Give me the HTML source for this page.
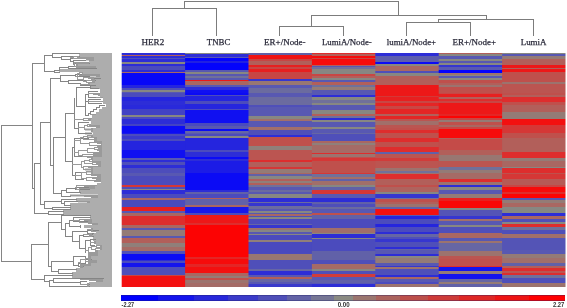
<!DOCTYPE html>
<html><head><meta charset="utf-8"><style>
html,body{margin:0;padding:0;background:#fff;}
body{width:567px;height:308px;overflow:hidden;}
svg{display:block;}
.lab{font-family:"Liberation Serif",serif;font-size:9.2px;fill:#2a2a3a;stroke:#2a2a3a;stroke-width:0.25px;}
.cbl{font-family:"Liberation Sans",sans-serif;font-size:6.4px;fill:#333;font-weight:bold;}
</style></head><body>
<svg width="567" height="308" viewBox="0 0 567 308">
<rect x="0" y="0" width="567" height="308" fill="#fff"/>
<g>
<rect x="121.7" y="53" width="64.4" height="2" fill="#2d2dd7"/>
<rect x="121.7" y="55" width="64.4" height="1" fill="#b25f5a"/>
<rect x="121.7" y="56" width="64.4" height="2" fill="#2d2dd7"/>
<rect x="121.7" y="58" width="64.4" height="1" fill="#4f4fb9"/>
<rect x="121.7" y="59" width="64.4" height="3" fill="#2d2dd7"/>
<rect x="121.7" y="62" width="64.4" height="2" fill="#878782"/>
<rect x="121.7" y="64" width="64.4" height="2" fill="#2d2dd7"/>
<rect x="121.7" y="66" width="64.4" height="4" fill="#4b4bbd"/>
<rect x="121.7" y="70" width="64.4" height="2" fill="#2d2dd7"/>
<rect x="121.7" y="72" width="64.4" height="1" fill="#a96762"/>
<rect x="121.7" y="73" width="64.4" height="12" fill="#0707f8"/>
<rect x="121.7" y="85" width="64.4" height="3" fill="#2525de"/>
<rect x="121.7" y="88" width="64.4" height="2" fill="#4f4fb9"/>
<rect x="121.7" y="90" width="64.4" height="2" fill="#878782"/>
<rect x="121.7" y="92" width="64.4" height="1" fill="#5858b2"/>
<rect x="121.7" y="93" width="64.4" height="4" fill="#4b4bbd"/>
<rect x="121.7" y="97" width="64.4" height="4" fill="#2525de"/>
<rect x="121.7" y="101" width="64.4" height="4" fill="#2d2dd7"/>
<rect x="121.7" y="105" width="64.4" height="4" fill="#2929db"/>
<rect x="121.7" y="109" width="64.4" height="6" fill="#4242c4"/>
<rect x="121.7" y="115" width="64.4" height="2" fill="#878782"/>
<rect x="121.7" y="117" width="64.4" height="2" fill="#4b4bbd"/>
<rect x="121.7" y="119" width="64.4" height="5" fill="#2d2dd7"/>
<rect x="121.7" y="124" width="64.4" height="2" fill="#4242c4"/>
<rect x="121.7" y="126" width="64.4" height="7" fill="#0b0bf5"/>
<rect x="121.7" y="133" width="64.4" height="1" fill="#1818ea"/>
<rect x="121.7" y="134" width="64.4" height="2" fill="#4b4bbd"/>
<rect x="121.7" y="136" width="64.4" height="3" fill="#3a3acc"/>
<rect x="121.7" y="139" width="64.4" height="2" fill="#4b4bbd"/>
<rect x="121.7" y="141" width="64.4" height="9" fill="#2525de"/>
<rect x="121.7" y="150" width="64.4" height="8" fill="#1010f1"/>
<rect x="121.7" y="158" width="64.4" height="2" fill="#5858b2"/>
<rect x="121.7" y="160" width="64.4" height="2" fill="#2d2dd7"/>
<rect x="121.7" y="162" width="64.4" height="3" fill="#4f4fb9"/>
<rect x="121.7" y="165" width="64.4" height="3" fill="#2d2dd7"/>
<rect x="121.7" y="168" width="64.4" height="5" fill="#4d4dbb"/>
<rect x="121.7" y="173" width="64.4" height="3" fill="#5858b2"/>
<rect x="121.7" y="176" width="64.4" height="9" fill="#4b4bbd"/>
<rect x="121.7" y="185" width="64.4" height="2" fill="#d53736"/>
<rect x="121.7" y="187" width="64.4" height="2" fill="#4f4fb9"/>
<rect x="121.7" y="189" width="64.4" height="1" fill="#878782"/>
<rect x="121.7" y="190" width="64.4" height="4" fill="#2d2dd7"/>
<rect x="121.7" y="194" width="64.4" height="4" fill="#4b4bbd"/>
<rect x="121.7" y="198" width="64.4" height="2" fill="#a96762"/>
<rect x="121.7" y="200" width="64.4" height="7" fill="#4b4bbd"/>
<rect x="121.7" y="207" width="64.4" height="4" fill="#e72020"/>
<rect x="121.7" y="211" width="64.4" height="2" fill="#5858b2"/>
<rect x="121.7" y="213" width="64.4" height="3" fill="#a96762"/>
<rect x="121.7" y="216" width="64.4" height="9" fill="#de2d2d"/>
<rect x="121.7" y="225" width="64.4" height="3" fill="#a96762"/>
<rect x="121.7" y="228" width="64.4" height="2" fill="#5858b2"/>
<rect x="121.7" y="230" width="64.4" height="6" fill="#947b76"/>
<rect x="121.7" y="236" width="64.4" height="2" fill="#5858b2"/>
<rect x="121.7" y="238" width="64.4" height="5" fill="#b25f5a"/>
<rect x="121.7" y="243" width="64.4" height="4" fill="#907f7a"/>
<rect x="121.7" y="247" width="64.4" height="4" fill="#a56b66"/>
<rect x="121.7" y="251" width="64.4" height="3" fill="#4f4fb9"/>
<rect x="121.7" y="254" width="64.4" height="6" fill="#0b0bf5"/>
<rect x="121.7" y="260" width="64.4" height="1" fill="#2d2dd7"/>
<rect x="121.7" y="261" width="64.4" height="2" fill="#4b4bbd"/>
<rect x="121.7" y="263" width="64.4" height="4" fill="#1414ed"/>
<rect x="121.7" y="267" width="64.4" height="8" fill="#4f4fb9"/>
<rect x="121.7" y="275" width="64.4" height="1" fill="#c84644"/>
<rect x="121.7" y="276" width="64.4" height="11" fill="#f31010"/>
<rect x="185.1" y="53" width="64.4" height="1" fill="#878782"/>
<rect x="185.1" y="54" width="64.4" height="3" fill="#2d2dd7"/>
<rect x="185.1" y="57" width="64.4" height="1" fill="#5858b2"/>
<rect x="185.1" y="58" width="64.4" height="3" fill="#0303fc"/>
<rect x="185.1" y="61" width="64.4" height="2" fill="#2020e2"/>
<rect x="185.1" y="63" width="64.4" height="7" fill="#0303fc"/>
<rect x="185.1" y="70" width="64.4" height="2" fill="#5858b2"/>
<rect x="185.1" y="72" width="64.4" height="2" fill="#878782"/>
<rect x="185.1" y="74" width="64.4" height="2" fill="#5858b2"/>
<rect x="185.1" y="76" width="64.4" height="2" fill="#70709a"/>
<rect x="185.1" y="78" width="64.4" height="2" fill="#5858b2"/>
<rect x="185.1" y="80" width="64.4" height="1" fill="#ed1818"/>
<rect x="185.1" y="81" width="64.4" height="4" fill="#a96762"/>
<rect x="185.1" y="85" width="64.4" height="2" fill="#5858b2"/>
<rect x="185.1" y="87" width="64.4" height="3" fill="#2d2dd7"/>
<rect x="185.1" y="90" width="64.4" height="3" fill="#1010f1"/>
<rect x="185.1" y="93" width="64.4" height="2" fill="#0b0bf5"/>
<rect x="185.1" y="95" width="64.4" height="1" fill="#4b4bbd"/>
<rect x="185.1" y="96" width="64.4" height="5" fill="#2525de"/>
<rect x="185.1" y="101" width="64.4" height="3" fill="#4b4bbd"/>
<rect x="185.1" y="104" width="64.4" height="5" fill="#2525de"/>
<rect x="185.1" y="109" width="64.4" height="1" fill="#4b4bbd"/>
<rect x="185.1" y="110" width="64.4" height="13" fill="#1010f1"/>
<rect x="185.1" y="123" width="64.4" height="3" fill="#4b4bbd"/>
<rect x="185.1" y="126" width="64.4" height="3" fill="#5858b2"/>
<rect x="185.1" y="129" width="64.4" height="2" fill="#0b0bf5"/>
<rect x="185.1" y="131" width="64.4" height="2" fill="#6666a4"/>
<rect x="185.1" y="133" width="64.4" height="1" fill="#5858b2"/>
<rect x="185.1" y="134" width="64.4" height="2" fill="#4b4bbd"/>
<rect x="185.1" y="136" width="64.4" height="2" fill="#878782"/>
<rect x="185.1" y="138" width="64.4" height="12" fill="#2525de"/>
<rect x="185.1" y="150" width="64.4" height="2" fill="#4b4bbd"/>
<rect x="185.1" y="152" width="64.4" height="5" fill="#2d2dd7"/>
<rect x="185.1" y="157" width="64.4" height="2" fill="#0b0bf5"/>
<rect x="185.1" y="159" width="64.4" height="2" fill="#2d2dd7"/>
<rect x="185.1" y="161" width="64.4" height="12" fill="#1c1ce6"/>
<rect x="185.1" y="173" width="64.4" height="17" fill="#0b0bf5"/>
<rect x="185.1" y="190" width="64.4" height="2" fill="#2d2dd7"/>
<rect x="185.1" y="192" width="64.4" height="2" fill="#6161a8"/>
<rect x="185.1" y="194" width="64.4" height="4" fill="#4b4bbd"/>
<rect x="185.1" y="198" width="64.4" height="1" fill="#b25f5a"/>
<rect x="185.1" y="199" width="64.4" height="6" fill="#6161a8"/>
<rect x="185.1" y="205" width="64.4" height="2" fill="#a96762"/>
<rect x="185.1" y="207" width="64.4" height="6" fill="#1818ea"/>
<rect x="185.1" y="213" width="64.4" height="2" fill="#4b4bbd"/>
<rect x="185.1" y="215" width="64.4" height="8" fill="#ed1818"/>
<rect x="185.1" y="223" width="64.4" height="2" fill="#de2d2d"/>
<rect x="185.1" y="225" width="64.4" height="32" fill="#fc0303"/>
<rect x="185.1" y="257" width="64.4" height="2" fill="#e42525"/>
<rect x="185.1" y="259" width="64.4" height="5" fill="#f60b0b"/>
<rect x="185.1" y="264" width="64.4" height="3" fill="#e42525"/>
<rect x="185.1" y="267" width="64.4" height="6" fill="#f31010"/>
<rect x="185.1" y="273" width="64.4" height="3" fill="#a96762"/>
<rect x="185.1" y="276" width="64.4" height="2" fill="#947b76"/>
<rect x="185.1" y="278" width="64.4" height="2" fill="#bf504c"/>
<rect x="185.1" y="280" width="64.4" height="3" fill="#9c736e"/>
<rect x="185.1" y="283" width="64.4" height="4" fill="#a56b66"/>
<rect x="248.5" y="53" width="64.4" height="2" fill="#6161a8"/>
<rect x="248.5" y="55" width="64.4" height="4" fill="#f01414"/>
<rect x="248.5" y="59" width="64.4" height="2" fill="#c84644"/>
<rect x="248.5" y="61" width="64.4" height="4" fill="#b25f5a"/>
<rect x="248.5" y="65" width="64.4" height="2" fill="#e72020"/>
<rect x="248.5" y="67" width="64.4" height="2" fill="#c84644"/>
<rect x="248.5" y="69" width="64.4" height="3" fill="#e72020"/>
<rect x="248.5" y="72" width="64.4" height="7" fill="#c84644"/>
<rect x="248.5" y="79" width="64.4" height="2" fill="#3636d0"/>
<rect x="248.5" y="81" width="64.4" height="4" fill="#987772"/>
<rect x="248.5" y="85" width="64.4" height="3" fill="#5858b2"/>
<rect x="248.5" y="88" width="64.4" height="5" fill="#6b6b9f"/>
<rect x="248.5" y="93" width="64.4" height="4" fill="#5858b2"/>
<rect x="248.5" y="97" width="64.4" height="8" fill="#6b6b9f"/>
<rect x="248.5" y="105" width="64.4" height="2" fill="#4f4fb9"/>
<rect x="248.5" y="107" width="64.4" height="9" fill="#5858b2"/>
<rect x="248.5" y="116" width="64.4" height="3" fill="#878782"/>
<rect x="248.5" y="119" width="64.4" height="2" fill="#a16f6a"/>
<rect x="248.5" y="121" width="64.4" height="6" fill="#5858b2"/>
<rect x="248.5" y="127" width="64.4" height="3" fill="#a16f6a"/>
<rect x="248.5" y="130" width="64.4" height="5" fill="#4f4fb9"/>
<rect x="248.5" y="135" width="64.4" height="2" fill="#2d2dd7"/>
<rect x="248.5" y="137" width="64.4" height="9" fill="#bf504c"/>
<rect x="248.5" y="146" width="64.4" height="4" fill="#907f7a"/>
<rect x="248.5" y="150" width="64.4" height="10" fill="#bb5551"/>
<rect x="248.5" y="160" width="64.4" height="2" fill="#de2d2d"/>
<rect x="248.5" y="162" width="64.4" height="5" fill="#b25f5a"/>
<rect x="248.5" y="167" width="64.4" height="2" fill="#d53736"/>
<rect x="248.5" y="169" width="64.4" height="4" fill="#947b76"/>
<rect x="248.5" y="173" width="64.4" height="1" fill="#a96762"/>
<rect x="248.5" y="174" width="64.4" height="2" fill="#6161a8"/>
<rect x="248.5" y="176" width="64.4" height="3" fill="#878782"/>
<rect x="248.5" y="179" width="64.4" height="2" fill="#b25f5a"/>
<rect x="248.5" y="181" width="64.4" height="2" fill="#907f7a"/>
<rect x="248.5" y="183" width="64.4" height="2" fill="#b25f5a"/>
<rect x="248.5" y="185" width="64.4" height="2" fill="#70709a"/>
<rect x="248.5" y="187" width="64.4" height="3" fill="#5858b2"/>
<rect x="248.5" y="190" width="64.4" height="2" fill="#6b6b9f"/>
<rect x="248.5" y="192" width="64.4" height="2" fill="#5858b2"/>
<rect x="248.5" y="194" width="64.4" height="4" fill="#878782"/>
<rect x="248.5" y="198" width="64.4" height="4" fill="#2d2dd7"/>
<rect x="248.5" y="202" width="64.4" height="1" fill="#6b6b9f"/>
<rect x="248.5" y="203" width="64.4" height="3" fill="#3636d0"/>
<rect x="248.5" y="206" width="64.4" height="3" fill="#6b6b9f"/>
<rect x="248.5" y="209" width="64.4" height="2" fill="#5858b2"/>
<rect x="248.5" y="211" width="64.4" height="2" fill="#878782"/>
<rect x="248.5" y="213" width="64.4" height="1" fill="#5858b2"/>
<rect x="248.5" y="214" width="64.4" height="2" fill="#a96762"/>
<rect x="248.5" y="216" width="64.4" height="1" fill="#4f4fb9"/>
<rect x="248.5" y="217" width="64.4" height="2" fill="#878782"/>
<rect x="248.5" y="219" width="64.4" height="5" fill="#4b4bbd"/>
<rect x="248.5" y="224" width="64.4" height="1" fill="#6666a4"/>
<rect x="248.5" y="225" width="64.4" height="3" fill="#3636d0"/>
<rect x="248.5" y="228" width="64.4" height="2" fill="#9c736e"/>
<rect x="248.5" y="230" width="64.4" height="2" fill="#878782"/>
<rect x="248.5" y="232" width="64.4" height="2" fill="#5858b2"/>
<rect x="248.5" y="234" width="64.4" height="1" fill="#878782"/>
<rect x="248.5" y="235" width="64.4" height="5" fill="#4b4bbd"/>
<rect x="248.5" y="240" width="64.4" height="2" fill="#907f7a"/>
<rect x="248.5" y="242" width="64.4" height="11" fill="#4949bf"/>
<rect x="248.5" y="253" width="64.4" height="1" fill="#4b4bbd"/>
<rect x="248.5" y="254" width="64.4" height="6" fill="#987772"/>
<rect x="248.5" y="260" width="64.4" height="9" fill="#4f4fb9"/>
<rect x="248.5" y="269" width="64.4" height="2" fill="#6666a4"/>
<rect x="248.5" y="271" width="64.4" height="4" fill="#2d2dd7"/>
<rect x="248.5" y="275" width="64.4" height="2" fill="#5858b2"/>
<rect x="248.5" y="277" width="64.4" height="2" fill="#b25f5a"/>
<rect x="248.5" y="279" width="64.4" height="3" fill="#6666a4"/>
<rect x="248.5" y="282" width="64.4" height="2" fill="#5858b2"/>
<rect x="248.5" y="284" width="64.4" height="3" fill="#3a3acc"/>
<rect x="311.9" y="53" width="64.4" height="1" fill="#de2d2d"/>
<rect x="311.9" y="54" width="64.4" height="2" fill="#b25f5a"/>
<rect x="311.9" y="56" width="64.4" height="2" fill="#f60b0b"/>
<rect x="311.9" y="58" width="64.4" height="1" fill="#c84644"/>
<rect x="311.9" y="59" width="64.4" height="6" fill="#f60b0b"/>
<rect x="311.9" y="65" width="64.4" height="1" fill="#b25f5a"/>
<rect x="311.9" y="66" width="64.4" height="1" fill="#5858b2"/>
<rect x="311.9" y="67" width="64.4" height="2" fill="#70709a"/>
<rect x="311.9" y="69" width="64.4" height="5" fill="#878782"/>
<rect x="311.9" y="74" width="64.4" height="2" fill="#c84644"/>
<rect x="311.9" y="76" width="64.4" height="2" fill="#b25f5a"/>
<rect x="311.9" y="78" width="64.4" height="2" fill="#878782"/>
<rect x="311.9" y="80" width="64.4" height="2" fill="#5858b2"/>
<rect x="311.9" y="82" width="64.4" height="3" fill="#b25f5a"/>
<rect x="311.9" y="85" width="64.4" height="2" fill="#70709a"/>
<rect x="311.9" y="87" width="64.4" height="3" fill="#947b76"/>
<rect x="311.9" y="90" width="64.4" height="5" fill="#5858b2"/>
<rect x="311.9" y="95" width="64.4" height="2" fill="#2d2dd7"/>
<rect x="311.9" y="97" width="64.4" height="3" fill="#878782"/>
<rect x="311.9" y="100" width="64.4" height="3" fill="#70709a"/>
<rect x="311.9" y="103" width="64.4" height="2" fill="#878782"/>
<rect x="311.9" y="105" width="64.4" height="5" fill="#5858b2"/>
<rect x="311.9" y="110" width="64.4" height="4" fill="#878782"/>
<rect x="311.9" y="114" width="64.4" height="2" fill="#b25f5a"/>
<rect x="311.9" y="116" width="64.4" height="2" fill="#70709a"/>
<rect x="311.9" y="118" width="64.4" height="2" fill="#2d2dd7"/>
<rect x="311.9" y="120" width="64.4" height="2" fill="#878782"/>
<rect x="311.9" y="122" width="64.4" height="5" fill="#5858b2"/>
<rect x="311.9" y="127" width="64.4" height="2" fill="#878782"/>
<rect x="311.9" y="129" width="64.4" height="4" fill="#5858b2"/>
<rect x="311.9" y="133" width="64.4" height="1" fill="#6666a4"/>
<rect x="311.9" y="134" width="64.4" height="7" fill="#4f4fb9"/>
<rect x="311.9" y="141" width="64.4" height="2" fill="#a96762"/>
<rect x="311.9" y="143" width="64.4" height="2" fill="#907f7a"/>
<rect x="311.9" y="145" width="64.4" height="8" fill="#a56b66"/>
<rect x="311.9" y="153" width="64.4" height="1" fill="#de2d2d"/>
<rect x="311.9" y="154" width="64.4" height="3" fill="#9c736e"/>
<rect x="311.9" y="157" width="64.4" height="1" fill="#bf504c"/>
<rect x="311.9" y="158" width="64.4" height="3" fill="#d53736"/>
<rect x="311.9" y="161" width="64.4" height="12" fill="#bf504c"/>
<rect x="311.9" y="173" width="64.4" height="1" fill="#d53736"/>
<rect x="311.9" y="174" width="64.4" height="3" fill="#70709a"/>
<rect x="311.9" y="177" width="64.4" height="2" fill="#a16f6a"/>
<rect x="311.9" y="179" width="64.4" height="2" fill="#6161a8"/>
<rect x="311.9" y="181" width="64.4" height="4" fill="#a16f6a"/>
<rect x="311.9" y="185" width="64.4" height="2" fill="#878782"/>
<rect x="311.9" y="187" width="64.4" height="3" fill="#6161a8"/>
<rect x="311.9" y="190" width="64.4" height="4" fill="#d53736"/>
<rect x="311.9" y="194" width="64.4" height="4" fill="#5858b2"/>
<rect x="311.9" y="198" width="64.4" height="4" fill="#2d2dd7"/>
<rect x="311.9" y="202" width="64.4" height="2" fill="#6161a8"/>
<rect x="311.9" y="204" width="64.4" height="3" fill="#4f4fb9"/>
<rect x="311.9" y="207" width="64.4" height="2" fill="#6b6b9f"/>
<rect x="311.9" y="209" width="64.4" height="4" fill="#5858b2"/>
<rect x="311.9" y="213" width="64.4" height="2" fill="#bf504c"/>
<rect x="311.9" y="215" width="64.4" height="4" fill="#6161a8"/>
<rect x="311.9" y="219" width="64.4" height="9" fill="#4b4bbd"/>
<rect x="311.9" y="228" width="64.4" height="5" fill="#a16f6a"/>
<rect x="311.9" y="233" width="64.4" height="1" fill="#878782"/>
<rect x="311.9" y="234" width="64.4" height="4" fill="#2d2dd7"/>
<rect x="311.9" y="238" width="64.4" height="1" fill="#878782"/>
<rect x="311.9" y="239" width="64.4" height="12" fill="#4b4bbd"/>
<rect x="311.9" y="251" width="64.4" height="9" fill="#6161a8"/>
<rect x="311.9" y="260" width="64.4" height="4" fill="#4f4fb9"/>
<rect x="311.9" y="264" width="64.4" height="5" fill="#a56b66"/>
<rect x="311.9" y="269" width="64.4" height="2" fill="#878782"/>
<rect x="311.9" y="271" width="64.4" height="3" fill="#4f4fb9"/>
<rect x="311.9" y="274" width="64.4" height="3" fill="#d13c3a"/>
<rect x="311.9" y="277" width="64.4" height="3" fill="#5858b2"/>
<rect x="311.9" y="280" width="64.4" height="3" fill="#6161a8"/>
<rect x="311.9" y="283" width="64.4" height="1" fill="#5858b2"/>
<rect x="311.9" y="284" width="64.4" height="3" fill="#2d2dd7"/>
<rect x="375.3" y="53" width="64.4" height="3" fill="#2d2dd7"/>
<rect x="375.3" y="56" width="64.4" height="6" fill="#5d5dad"/>
<rect x="375.3" y="62" width="64.4" height="2" fill="#0b0bf5"/>
<rect x="375.3" y="64" width="64.4" height="2" fill="#878782"/>
<rect x="375.3" y="66" width="64.4" height="5" fill="#a96762"/>
<rect x="375.3" y="71" width="64.4" height="2" fill="#4f4fb9"/>
<rect x="375.3" y="73" width="64.4" height="3" fill="#878782"/>
<rect x="375.3" y="76" width="64.4" height="9" fill="#b25f5a"/>
<rect x="375.3" y="85" width="64.4" height="11" fill="#ed1818"/>
<rect x="375.3" y="96" width="64.4" height="1" fill="#d53736"/>
<rect x="375.3" y="97" width="64.4" height="4" fill="#e72020"/>
<rect x="375.3" y="101" width="64.4" height="2" fill="#c84644"/>
<rect x="375.3" y="103" width="64.4" height="3" fill="#e42525"/>
<rect x="375.3" y="106" width="64.4" height="3" fill="#c84644"/>
<rect x="375.3" y="109" width="64.4" height="5" fill="#e42525"/>
<rect x="375.3" y="114" width="64.4" height="2" fill="#b25f5a"/>
<rect x="375.3" y="116" width="64.4" height="3" fill="#e42525"/>
<rect x="375.3" y="119" width="64.4" height="2" fill="#bb5551"/>
<rect x="375.3" y="121" width="64.4" height="4" fill="#a16f6a"/>
<rect x="375.3" y="125" width="64.4" height="3" fill="#bb5551"/>
<rect x="375.3" y="128" width="64.4" height="2" fill="#bf504c"/>
<rect x="375.3" y="130" width="64.4" height="3" fill="#de2d2d"/>
<rect x="375.3" y="133" width="64.4" height="5" fill="#bf504c"/>
<rect x="375.3" y="138" width="64.4" height="4" fill="#de2d2d"/>
<rect x="375.3" y="142" width="64.4" height="5" fill="#bf504c"/>
<rect x="375.3" y="147" width="64.4" height="5" fill="#de2d2d"/>
<rect x="375.3" y="152" width="64.4" height="2" fill="#6161a8"/>
<rect x="375.3" y="154" width="64.4" height="4" fill="#bb5551"/>
<rect x="375.3" y="158" width="64.4" height="3" fill="#d13c3a"/>
<rect x="375.3" y="161" width="64.4" height="7" fill="#bb5551"/>
<rect x="375.3" y="168" width="64.4" height="3" fill="#9c736e"/>
<rect x="375.3" y="171" width="64.4" height="2" fill="#70709a"/>
<rect x="375.3" y="173" width="64.4" height="1" fill="#9c736e"/>
<rect x="375.3" y="174" width="64.4" height="5" fill="#de2d2d"/>
<rect x="375.3" y="179" width="64.4" height="6" fill="#b25f5a"/>
<rect x="375.3" y="185" width="64.4" height="2" fill="#bf504c"/>
<rect x="375.3" y="187" width="64.4" height="5" fill="#ae635e"/>
<rect x="375.3" y="192" width="64.4" height="2" fill="#878782"/>
<rect x="375.3" y="194" width="64.4" height="4" fill="#3636d0"/>
<rect x="375.3" y="198" width="64.4" height="1" fill="#70709a"/>
<rect x="375.3" y="199" width="64.4" height="3" fill="#bf504c"/>
<rect x="375.3" y="202" width="64.4" height="2" fill="#b25f5a"/>
<rect x="375.3" y="204" width="64.4" height="3" fill="#9c736e"/>
<rect x="375.3" y="207" width="64.4" height="2" fill="#6161a8"/>
<rect x="375.3" y="209" width="64.4" height="6" fill="#f31010"/>
<rect x="375.3" y="215" width="64.4" height="1" fill="#5858b2"/>
<rect x="375.3" y="216" width="64.4" height="3" fill="#2525de"/>
<rect x="375.3" y="219" width="64.4" height="5" fill="#4b4bbd"/>
<rect x="375.3" y="224" width="64.4" height="3" fill="#2525de"/>
<rect x="375.3" y="227" width="64.4" height="5" fill="#4b4bbd"/>
<rect x="375.3" y="232" width="64.4" height="2" fill="#2d2dd7"/>
<rect x="375.3" y="234" width="64.4" height="3" fill="#6666a4"/>
<rect x="375.3" y="237" width="64.4" height="2" fill="#4f4fb9"/>
<rect x="375.3" y="239" width="64.4" height="3" fill="#3636d0"/>
<rect x="375.3" y="242" width="64.4" height="5" fill="#4f4fb9"/>
<rect x="375.3" y="247" width="64.4" height="2" fill="#2d2dd7"/>
<rect x="375.3" y="249" width="64.4" height="1" fill="#6161a8"/>
<rect x="375.3" y="250" width="64.4" height="4" fill="#5858b2"/>
<rect x="375.3" y="254" width="64.4" height="2" fill="#2d2dd7"/>
<rect x="375.3" y="256" width="64.4" height="2" fill="#878782"/>
<rect x="375.3" y="258" width="64.4" height="5" fill="#947b76"/>
<rect x="375.3" y="263" width="64.4" height="3" fill="#5858b2"/>
<rect x="375.3" y="266" width="64.4" height="1" fill="#3636d0"/>
<rect x="375.3" y="267" width="64.4" height="2" fill="#9c736e"/>
<rect x="375.3" y="269" width="64.4" height="6" fill="#4f4fb9"/>
<rect x="375.3" y="275" width="64.4" height="2" fill="#2d2dd7"/>
<rect x="375.3" y="277" width="64.4" height="2" fill="#a96762"/>
<rect x="375.3" y="279" width="64.4" height="3" fill="#5858b2"/>
<rect x="375.3" y="282" width="64.4" height="2" fill="#4b4bbd"/>
<rect x="375.3" y="284" width="64.4" height="3" fill="#9c736e"/>
<rect x="438.7" y="53" width="64.4" height="1" fill="#b25f5a"/>
<rect x="438.7" y="54" width="64.4" height="2" fill="#878782"/>
<rect x="438.7" y="56" width="64.4" height="3" fill="#5858b2"/>
<rect x="438.7" y="59" width="64.4" height="2" fill="#878782"/>
<rect x="438.7" y="61" width="64.4" height="2" fill="#5858b2"/>
<rect x="438.7" y="63" width="64.4" height="2" fill="#878782"/>
<rect x="438.7" y="65" width="64.4" height="2" fill="#3636d0"/>
<rect x="438.7" y="67" width="64.4" height="3" fill="#5858b2"/>
<rect x="438.7" y="70" width="64.4" height="3" fill="#0303fc"/>
<rect x="438.7" y="73" width="64.4" height="2" fill="#9c736e"/>
<rect x="438.7" y="75" width="64.4" height="1" fill="#878782"/>
<rect x="438.7" y="76" width="64.4" height="2" fill="#5858b2"/>
<rect x="438.7" y="78" width="64.4" height="2" fill="#878782"/>
<rect x="438.7" y="80" width="64.4" height="3" fill="#bf504c"/>
<rect x="438.7" y="83" width="64.4" height="2" fill="#b25f5a"/>
<rect x="438.7" y="85" width="64.4" height="2" fill="#9c736e"/>
<rect x="438.7" y="87" width="64.4" height="6" fill="#bf504c"/>
<rect x="438.7" y="93" width="64.4" height="1" fill="#c84644"/>
<rect x="438.7" y="94" width="64.4" height="3" fill="#e72020"/>
<rect x="438.7" y="97" width="64.4" height="2" fill="#b25f5a"/>
<rect x="438.7" y="99" width="64.4" height="2" fill="#de2d2d"/>
<rect x="438.7" y="101" width="64.4" height="2" fill="#c84644"/>
<rect x="438.7" y="103" width="64.4" height="11" fill="#ed1818"/>
<rect x="438.7" y="114" width="64.4" height="2" fill="#e42525"/>
<rect x="438.7" y="116" width="64.4" height="2" fill="#fc0303"/>
<rect x="438.7" y="118" width="64.4" height="2" fill="#c84644"/>
<rect x="438.7" y="120" width="64.4" height="2" fill="#947b76"/>
<rect x="438.7" y="122" width="64.4" height="3" fill="#bf504c"/>
<rect x="438.7" y="125" width="64.4" height="2" fill="#a96762"/>
<rect x="438.7" y="127" width="64.4" height="2" fill="#c84644"/>
<rect x="438.7" y="129" width="64.4" height="9" fill="#f60b0b"/>
<rect x="438.7" y="138" width="64.4" height="1" fill="#b25f5a"/>
<rect x="438.7" y="139" width="64.4" height="11" fill="#c44b48"/>
<rect x="438.7" y="150" width="64.4" height="5" fill="#b25f5a"/>
<rect x="438.7" y="155" width="64.4" height="6" fill="#987772"/>
<rect x="438.7" y="161" width="64.4" height="6" fill="#bb5551"/>
<rect x="438.7" y="167" width="64.4" height="3" fill="#70709a"/>
<rect x="438.7" y="170" width="64.4" height="3" fill="#947b76"/>
<rect x="438.7" y="173" width="64.4" height="6" fill="#a56b66"/>
<rect x="438.7" y="179" width="64.4" height="3" fill="#de2d2d"/>
<rect x="438.7" y="182" width="64.4" height="3" fill="#9c736e"/>
<rect x="438.7" y="185" width="64.4" height="2" fill="#2d2dd7"/>
<rect x="438.7" y="187" width="64.4" height="3" fill="#878782"/>
<rect x="438.7" y="190" width="64.4" height="4" fill="#5858b2"/>
<rect x="438.7" y="194" width="64.4" height="4" fill="#947b76"/>
<rect x="438.7" y="198" width="64.4" height="3" fill="#e72020"/>
<rect x="438.7" y="201" width="64.4" height="7" fill="#f90707"/>
<rect x="438.7" y="208" width="64.4" height="2" fill="#878782"/>
<rect x="438.7" y="210" width="64.4" height="6" fill="#5454b6"/>
<rect x="438.7" y="216" width="64.4" height="3" fill="#3636d0"/>
<rect x="438.7" y="219" width="64.4" height="2" fill="#a16f6a"/>
<rect x="438.7" y="221" width="64.4" height="4" fill="#5858b2"/>
<rect x="438.7" y="225" width="64.4" height="2" fill="#878782"/>
<rect x="438.7" y="227" width="64.4" height="6" fill="#4f4fb9"/>
<rect x="438.7" y="233" width="64.4" height="5" fill="#a96762"/>
<rect x="438.7" y="238" width="64.4" height="3" fill="#5858b2"/>
<rect x="438.7" y="241" width="64.4" height="2" fill="#9c736e"/>
<rect x="438.7" y="243" width="64.4" height="8" fill="#6666a4"/>
<rect x="438.7" y="251" width="64.4" height="5" fill="#9c736e"/>
<rect x="438.7" y="256" width="64.4" height="3" fill="#bb5551"/>
<rect x="438.7" y="259" width="64.4" height="7" fill="#bf504c"/>
<rect x="438.7" y="266" width="64.4" height="1" fill="#de2d2d"/>
<rect x="438.7" y="267" width="64.4" height="4" fill="#1414ed"/>
<rect x="438.7" y="271" width="64.4" height="3" fill="#947b76"/>
<rect x="438.7" y="274" width="64.4" height="5" fill="#1414ed"/>
<rect x="438.7" y="279" width="64.4" height="3" fill="#6666a4"/>
<rect x="438.7" y="282" width="64.4" height="2" fill="#947b76"/>
<rect x="438.7" y="284" width="64.4" height="3" fill="#6161a8"/>
<rect x="502.1" y="53" width="63.4" height="1" fill="#878782"/>
<rect x="502.1" y="54" width="63.4" height="2" fill="#5858b2"/>
<rect x="502.1" y="56" width="63.4" height="3" fill="#947b76"/>
<rect x="502.1" y="59" width="63.4" height="6" fill="#b25f5a"/>
<rect x="502.1" y="65" width="63.4" height="3" fill="#ed1818"/>
<rect x="502.1" y="68" width="63.4" height="1" fill="#b25f5a"/>
<rect x="502.1" y="69" width="63.4" height="3" fill="#ed1818"/>
<rect x="502.1" y="72" width="63.4" height="10" fill="#bf504c"/>
<rect x="502.1" y="82" width="63.4" height="2" fill="#9c736e"/>
<rect x="502.1" y="84" width="63.4" height="9" fill="#bb5551"/>
<rect x="502.1" y="93" width="63.4" height="2" fill="#bf504c"/>
<rect x="502.1" y="95" width="63.4" height="2" fill="#b25f5a"/>
<rect x="502.1" y="97" width="63.4" height="5" fill="#de2d2d"/>
<rect x="502.1" y="102" width="63.4" height="3" fill="#bf504c"/>
<rect x="502.1" y="105" width="63.4" height="7" fill="#b25f5a"/>
<rect x="502.1" y="112" width="63.4" height="7" fill="#947b76"/>
<rect x="502.1" y="119" width="63.4" height="6" fill="#f31010"/>
<rect x="502.1" y="125" width="63.4" height="8" fill="#d53736"/>
<rect x="502.1" y="133" width="63.4" height="5" fill="#bf504c"/>
<rect x="502.1" y="138" width="63.4" height="14" fill="#b25f5a"/>
<rect x="502.1" y="152" width="63.4" height="6" fill="#de2d2d"/>
<rect x="502.1" y="158" width="63.4" height="3" fill="#947b76"/>
<rect x="502.1" y="161" width="63.4" height="6" fill="#a96762"/>
<rect x="502.1" y="167" width="63.4" height="1" fill="#878782"/>
<rect x="502.1" y="168" width="63.4" height="5" fill="#de2d2d"/>
<rect x="502.1" y="173" width="63.4" height="1" fill="#bf504c"/>
<rect x="502.1" y="174" width="63.4" height="5" fill="#d53736"/>
<rect x="502.1" y="179" width="63.4" height="6" fill="#b65a56"/>
<rect x="502.1" y="185" width="63.4" height="2" fill="#c84644"/>
<rect x="502.1" y="187" width="63.4" height="5" fill="#f60b0b"/>
<rect x="502.1" y="192" width="63.4" height="2" fill="#de2d2d"/>
<rect x="502.1" y="194" width="63.4" height="4" fill="#fc0303"/>
<rect x="502.1" y="198" width="63.4" height="2" fill="#5858b2"/>
<rect x="502.1" y="200" width="63.4" height="3" fill="#947b76"/>
<rect x="502.1" y="203" width="63.4" height="4" fill="#a96762"/>
<rect x="502.1" y="207" width="63.4" height="6" fill="#878782"/>
<rect x="502.1" y="213" width="63.4" height="3" fill="#2d2dd7"/>
<rect x="502.1" y="216" width="63.4" height="3" fill="#a96762"/>
<rect x="502.1" y="219" width="63.4" height="3" fill="#4f4fb9"/>
<rect x="502.1" y="222" width="63.4" height="2" fill="#878782"/>
<rect x="502.1" y="224" width="63.4" height="3" fill="#de2d2d"/>
<rect x="502.1" y="227" width="63.4" height="3" fill="#70709a"/>
<rect x="502.1" y="230" width="63.4" height="4" fill="#4f4fb9"/>
<rect x="502.1" y="234" width="63.4" height="4" fill="#a16f6a"/>
<rect x="502.1" y="238" width="63.4" height="12" fill="#5454b6"/>
<rect x="502.1" y="250" width="63.4" height="4" fill="#5858b2"/>
<rect x="502.1" y="254" width="63.4" height="4" fill="#947b76"/>
<rect x="502.1" y="258" width="63.4" height="5" fill="#a16f6a"/>
<rect x="502.1" y="263" width="63.4" height="3" fill="#6161a8"/>
<rect x="502.1" y="266" width="63.4" height="2" fill="#b25f5a"/>
<rect x="502.1" y="268" width="63.4" height="3" fill="#de2d2d"/>
<rect x="502.1" y="271" width="63.4" height="2" fill="#bb5551"/>
<rect x="502.1" y="273" width="63.4" height="2" fill="#de2d2d"/>
<rect x="502.1" y="275" width="63.4" height="3" fill="#70709a"/>
<rect x="502.1" y="278" width="63.4" height="5" fill="#4f4fb9"/>
<rect x="502.1" y="283" width="63.4" height="4" fill="#9c736e"/>
</g>
<g shape-rendering="crispEdges">
<line x1="184.5" y1="1.5" x2="398.5" y2="1.5" stroke="#7c7c7c" stroke-width="1" stroke-linecap="square"/>
<line x1="184.5" y1="1.5" x2="184.5" y2="8.5" stroke="#7c7c7c" stroke-width="1" stroke-linecap="square"/>
<line x1="152.5" y1="8.5" x2="216.5" y2="8.5" stroke="#7c7c7c" stroke-width="1" stroke-linecap="square"/>
<line x1="152.5" y1="8.5" x2="152.5" y2="35.5" stroke="#7c7c7c" stroke-width="1" stroke-linecap="square"/>
<line x1="216.5" y1="8.5" x2="216.5" y2="35.5" stroke="#7c7c7c" stroke-width="1" stroke-linecap="square"/>
<line x1="398.5" y1="1.5" x2="398.5" y2="15.5" stroke="#7c7c7c" stroke-width="1" stroke-linecap="square"/>
<line x1="311.5" y1="15.5" x2="486.5" y2="15.5" stroke="#7c7c7c" stroke-width="1" stroke-linecap="square"/>
<line x1="311.5" y1="15.5" x2="311.5" y2="26.5" stroke="#7c7c7c" stroke-width="1" stroke-linecap="square"/>
<line x1="279.5" y1="26.5" x2="343.5" y2="26.5" stroke="#7c7c7c" stroke-width="1" stroke-linecap="square"/>
<line x1="279.5" y1="26.5" x2="279.5" y2="35.5" stroke="#7c7c7c" stroke-width="1" stroke-linecap="square"/>
<line x1="343.5" y1="26.5" x2="343.5" y2="35.5" stroke="#7c7c7c" stroke-width="1" stroke-linecap="square"/>
<line x1="486.5" y1="15.5" x2="486.5" y2="19.5" stroke="#7c7c7c" stroke-width="1" stroke-linecap="square"/>
<line x1="438.5" y1="19.5" x2="533.5" y2="19.5" stroke="#7c7c7c" stroke-width="1" stroke-linecap="square"/>
<line x1="533.5" y1="19.5" x2="533.5" y2="35.5" stroke="#7c7c7c" stroke-width="1" stroke-linecap="square"/>
<line x1="438.5" y1="19.5" x2="438.5" y2="22.5" stroke="#7c7c7c" stroke-width="1" stroke-linecap="square"/>
<line x1="406.5" y1="22.5" x2="470.5" y2="22.5" stroke="#7c7c7c" stroke-width="1" stroke-linecap="square"/>
<line x1="406.5" y1="22.5" x2="406.5" y2="35.5" stroke="#7c7c7c" stroke-width="1" stroke-linecap="square"/>
<line x1="470.5" y1="22.5" x2="470.5" y2="35.5" stroke="#7c7c7c" stroke-width="1" stroke-linecap="square"/>
</g>
<g class="lab">
<text x="141.5" y="45.3" textLength="22.7" lengthAdjust="spacingAndGlyphs">HER2</text>
<text x="206.8" y="45.3" textLength="23.6" lengthAdjust="spacingAndGlyphs">TNBC</text>
<text x="264.1" y="45.3" textLength="41.5" lengthAdjust="spacingAndGlyphs">ER+/Node-</text>
<text x="322.0" y="45.3" textLength="49.7" lengthAdjust="spacingAndGlyphs">LumiA/Node-</text>
<text x="386.8" y="45.3" textLength="49.3" lengthAdjust="spacingAndGlyphs">lumiA/Node+</text>
<text x="452.6" y="45.3" textLength="43.5" lengthAdjust="spacingAndGlyphs">ER+/Node+</text>
<text x="520.7" y="45.3" textLength="25.8" lengthAdjust="spacingAndGlyphs">LumiA</text>
</g>
<g shape-rendering="crispEdges">
<rect x="121" y="295" width="37" height="6" fill="#0000ff"/>
<rect x="158" y="295" width="36" height="6" fill="#1414ed"/>
<rect x="194" y="295" width="34" height="6" fill="#2727db"/>
<rect x="228" y="295" width="30" height="6" fill="#3b3bc9"/>
<rect x="258" y="295" width="29" height="6" fill="#4f4fb8"/>
<rect x="287" y="295" width="24" height="6" fill="#6363a6"/>
<rect x="311" y="295" width="23" height="6" fill="#767694"/>
<rect x="334" y="295" width="19" height="6" fill="#8a8a82"/>
<rect x="353" y="295" width="23" height="6" fill="#9b766f"/>
<rect x="376" y="295" width="24" height="6" fill="#ab635d"/>
<rect x="400" y="295" width="28" height="6" fill="#bc4f4a"/>
<rect x="428" y="295" width="31" height="6" fill="#cd3b38"/>
<rect x="459" y="295" width="36" height="6" fill="#de2725"/>
<rect x="495" y="295" width="34" height="6" fill="#ee1413"/>
<rect x="529" y="295" width="36" height="6" fill="#ff0000"/>
<rect x="121" y="295" width="444" height="1" fill="#202060" opacity="0.35"/>
<rect x="121" y="300" width="444" height="1" fill="#202060" opacity="0.35"/>
</g>
<g class="cbl">
<text x="121.6" y="306.6" textLength="12.6" lengthAdjust="spacingAndGlyphs">-2.27</text>
<text x="337.7" y="306.6" textLength="12" lengthAdjust="spacingAndGlyphs">0.00</text>
<text x="553" y="306.6" textLength="11.3" lengthAdjust="spacingAndGlyphs">2.27</text>
</g>
<g shape-rendering="crispEdges">
<rect x="79" y="53" width="33" height="1" fill="#adadad"/>
<rect x="79" y="54" width="33" height="1" fill="#adadad"/>
<rect x="79" y="55" width="33" height="1" fill="#adadad"/>
<rect x="79" y="56" width="33" height="1" fill="#adadad"/>
<rect x="94" y="57" width="18" height="1" fill="#adadad"/>
<rect x="94" y="58" width="18" height="1" fill="#adadad"/>
<rect x="85" y="58" width="9" height="1" fill="#cfcfcf"/>
<rect x="94" y="59" width="18" height="1" fill="#adadad"/>
<rect x="94" y="60" width="18" height="1" fill="#adadad"/>
<rect x="85" y="60" width="9" height="1" fill="#cfcfcf"/>
<rect x="89" y="61" width="23" height="1" fill="#adadad"/>
<rect x="89" y="62" width="23" height="1" fill="#adadad"/>
<rect x="89" y="63" width="23" height="1" fill="#adadad"/>
<rect x="78" y="64" width="34" height="1" fill="#adadad"/>
<rect x="78" y="65" width="34" height="1" fill="#adadad"/>
<rect x="96" y="66" width="16" height="1" fill="#adadad"/>
<rect x="68" y="66" width="28" height="1" fill="#cfcfcf"/>
<rect x="96" y="67" width="16" height="1" fill="#adadad"/>
<rect x="96" y="68" width="16" height="1" fill="#adadad"/>
<rect x="68" y="68" width="28" height="1" fill="#cfcfcf"/>
<rect x="59" y="69" width="53" height="1" fill="#adadad"/>
<rect x="59" y="70" width="53" height="1" fill="#adadad"/>
<rect x="59" y="71" width="53" height="1" fill="#adadad"/>
<rect x="83" y="72" width="29" height="1" fill="#adadad"/>
<rect x="83" y="73" width="29" height="1" fill="#adadad"/>
<rect x="100" y="74" width="12" height="1" fill="#adadad"/>
<rect x="89" y="74" width="11" height="1" fill="#cfcfcf"/>
<rect x="100" y="75" width="12" height="1" fill="#adadad"/>
<rect x="100" y="76" width="12" height="1" fill="#adadad"/>
<rect x="89" y="76" width="11" height="1" fill="#cfcfcf"/>
<rect x="94" y="77" width="18" height="1" fill="#adadad"/>
<rect x="94" y="78" width="18" height="1" fill="#adadad"/>
<rect x="95" y="79" width="17" height="1" fill="#adadad"/>
<rect x="95" y="80" width="17" height="1" fill="#adadad"/>
<rect x="95" y="81" width="17" height="1" fill="#adadad"/>
<rect x="95" y="82" width="17" height="1" fill="#adadad"/>
<rect x="90" y="83" width="22" height="1" fill="#adadad"/>
<rect x="90" y="84" width="22" height="1" fill="#adadad"/>
<rect x="91" y="85" width="21" height="1" fill="#adadad"/>
<rect x="91" y="86" width="21" height="1" fill="#adadad"/>
<rect x="91" y="87" width="21" height="1" fill="#adadad"/>
<rect x="91" y="88" width="21" height="1" fill="#adadad"/>
<rect x="100" y="89" width="12" height="1" fill="#adadad"/>
<rect x="100" y="90" width="12" height="1" fill="#adadad"/>
<rect x="100" y="91" width="12" height="1" fill="#adadad"/>
<rect x="100" y="92" width="12" height="1" fill="#adadad"/>
<rect x="100" y="93" width="12" height="1" fill="#adadad"/>
<rect x="100" y="94" width="12" height="1" fill="#adadad"/>
<rect x="100" y="95" width="12" height="1" fill="#adadad"/>
<rect x="100" y="96" width="12" height="1" fill="#adadad"/>
<rect x="103" y="97" width="9" height="1" fill="#adadad"/>
<rect x="103" y="98" width="9" height="1" fill="#adadad"/>
<rect x="103" y="99" width="9" height="1" fill="#adadad"/>
<rect x="103" y="100" width="9" height="1" fill="#adadad"/>
<rect x="103" y="101" width="9" height="1" fill="#adadad"/>
<rect x="103" y="102" width="9" height="1" fill="#adadad"/>
<rect x="103" y="103" width="9" height="1" fill="#adadad"/>
<rect x="106" y="104" width="6" height="1" fill="#adadad"/>
<rect x="106" y="105" width="6" height="1" fill="#adadad"/>
<rect x="106" y="106" width="6" height="1" fill="#adadad"/>
<rect x="102" y="107" width="10" height="1" fill="#adadad"/>
<rect x="102" y="108" width="10" height="1" fill="#adadad"/>
<rect x="99" y="109" width="13" height="1" fill="#adadad"/>
<rect x="99" y="110" width="13" height="1" fill="#adadad"/>
<rect x="99" y="111" width="13" height="1" fill="#adadad"/>
<rect x="96" y="112" width="16" height="1" fill="#adadad"/>
<rect x="96" y="113" width="16" height="1" fill="#adadad"/>
<rect x="96" y="114" width="16" height="1" fill="#adadad"/>
<rect x="92" y="115" width="20" height="1" fill="#adadad"/>
<rect x="92" y="116" width="20" height="1" fill="#adadad"/>
<rect x="92" y="117" width="20" height="1" fill="#adadad"/>
<rect x="92" y="118" width="20" height="1" fill="#adadad"/>
<rect x="91" y="119" width="21" height="1" fill="#adadad"/>
<rect x="91" y="120" width="21" height="1" fill="#adadad"/>
<rect x="91" y="121" width="21" height="1" fill="#adadad"/>
<rect x="91" y="122" width="21" height="1" fill="#adadad"/>
<rect x="91" y="123" width="21" height="1" fill="#adadad"/>
<rect x="91" y="124" width="21" height="1" fill="#adadad"/>
<rect x="100" y="125" width="12" height="1" fill="#adadad"/>
<rect x="100" y="126" width="12" height="1" fill="#adadad"/>
<rect x="100" y="127" width="12" height="1" fill="#adadad"/>
<rect x="93" y="128" width="19" height="1" fill="#adadad"/>
<rect x="85" y="128" width="8" height="1" fill="#cfcfcf"/>
<rect x="93" y="129" width="19" height="1" fill="#adadad"/>
<rect x="93" y="130" width="19" height="1" fill="#adadad"/>
<rect x="85" y="130" width="8" height="1" fill="#cfcfcf"/>
<rect x="93" y="131" width="19" height="1" fill="#adadad"/>
<rect x="93" y="132" width="19" height="1" fill="#adadad"/>
<rect x="85" y="132" width="8" height="1" fill="#cfcfcf"/>
<rect x="93" y="133" width="19" height="1" fill="#adadad"/>
<rect x="93" y="134" width="19" height="1" fill="#adadad"/>
<rect x="85" y="134" width="8" height="1" fill="#cfcfcf"/>
<rect x="93" y="135" width="19" height="1" fill="#adadad"/>
<rect x="93" y="136" width="19" height="1" fill="#adadad"/>
<rect x="85" y="136" width="8" height="1" fill="#cfcfcf"/>
<rect x="97" y="137" width="15" height="1" fill="#adadad"/>
<rect x="97" y="138" width="15" height="1" fill="#adadad"/>
<rect x="97" y="139" width="15" height="1" fill="#adadad"/>
<rect x="97" y="140" width="15" height="1" fill="#adadad"/>
<rect x="102" y="141" width="10" height="1" fill="#adadad"/>
<rect x="102" y="142" width="10" height="1" fill="#adadad"/>
<rect x="102" y="143" width="10" height="1" fill="#adadad"/>
<rect x="102" y="144" width="10" height="1" fill="#adadad"/>
<rect x="102" y="145" width="10" height="1" fill="#adadad"/>
<rect x="102" y="146" width="10" height="1" fill="#adadad"/>
<rect x="102" y="147" width="10" height="1" fill="#adadad"/>
<rect x="102" y="148" width="10" height="1" fill="#adadad"/>
<rect x="102" y="149" width="10" height="1" fill="#adadad"/>
<rect x="102" y="150" width="10" height="1" fill="#adadad"/>
<rect x="102" y="151" width="10" height="1" fill="#adadad"/>
<rect x="102" y="152" width="10" height="1" fill="#adadad"/>
<rect x="102" y="153" width="10" height="1" fill="#adadad"/>
<rect x="102" y="154" width="10" height="1" fill="#adadad"/>
<rect x="102" y="155" width="10" height="1" fill="#adadad"/>
<rect x="102" y="156" width="10" height="1" fill="#adadad"/>
<rect x="93" y="157" width="19" height="1" fill="#adadad"/>
<rect x="93" y="158" width="19" height="1" fill="#adadad"/>
<rect x="93" y="159" width="19" height="1" fill="#adadad"/>
<rect x="93" y="160" width="19" height="1" fill="#adadad"/>
<rect x="101" y="161" width="11" height="1" fill="#adadad"/>
<rect x="101" y="162" width="11" height="1" fill="#adadad"/>
<rect x="101" y="163" width="11" height="1" fill="#adadad"/>
<rect x="101" y="164" width="11" height="1" fill="#adadad"/>
<rect x="101" y="165" width="11" height="1" fill="#adadad"/>
<rect x="101" y="166" width="11" height="1" fill="#adadad"/>
<rect x="93" y="167" width="19" height="1" fill="#adadad"/>
<rect x="93" y="168" width="19" height="1" fill="#adadad"/>
<rect x="85" y="168" width="8" height="1" fill="#cfcfcf"/>
<rect x="93" y="169" width="19" height="1" fill="#adadad"/>
<rect x="93" y="170" width="19" height="1" fill="#adadad"/>
<rect x="85" y="170" width="8" height="1" fill="#cfcfcf"/>
<rect x="93" y="171" width="19" height="1" fill="#adadad"/>
<rect x="93" y="172" width="19" height="1" fill="#adadad"/>
<rect x="85" y="172" width="8" height="1" fill="#cfcfcf"/>
<rect x="93" y="173" width="19" height="1" fill="#adadad"/>
<rect x="101" y="174" width="11" height="1" fill="#adadad"/>
<rect x="101" y="175" width="11" height="1" fill="#adadad"/>
<rect x="101" y="176" width="11" height="1" fill="#adadad"/>
<rect x="101" y="177" width="11" height="1" fill="#adadad"/>
<rect x="101" y="178" width="11" height="1" fill="#adadad"/>
<rect x="101" y="179" width="11" height="1" fill="#adadad"/>
<rect x="101" y="180" width="11" height="1" fill="#adadad"/>
<rect x="101" y="181" width="11" height="1" fill="#adadad"/>
<rect x="101" y="182" width="11" height="1" fill="#adadad"/>
<rect x="97" y="183" width="15" height="1" fill="#adadad"/>
<rect x="97" y="184" width="15" height="1" fill="#adadad"/>
<rect x="97" y="185" width="15" height="1" fill="#adadad"/>
<rect x="95" y="186" width="17" height="1" fill="#adadad"/>
<rect x="95" y="187" width="17" height="1" fill="#adadad"/>
<rect x="95" y="188" width="17" height="1" fill="#adadad"/>
<rect x="80" y="189" width="32" height="1" fill="#adadad"/>
<rect x="80" y="190" width="32" height="1" fill="#adadad"/>
<rect x="80" y="191" width="32" height="1" fill="#adadad"/>
<rect x="80" y="192" width="32" height="1" fill="#adadad"/>
<rect x="80" y="193" width="32" height="1" fill="#adadad"/>
<rect x="98" y="194" width="14" height="1" fill="#adadad"/>
<rect x="70" y="194" width="28" height="1" fill="#cfcfcf"/>
<rect x="98" y="195" width="14" height="1" fill="#adadad"/>
<rect x="98" y="196" width="14" height="1" fill="#adadad"/>
<rect x="70" y="196" width="28" height="1" fill="#cfcfcf"/>
<rect x="98" y="197" width="14" height="1" fill="#adadad"/>
<rect x="76" y="198" width="36" height="1" fill="#adadad"/>
<rect x="76" y="199" width="36" height="1" fill="#adadad"/>
<rect x="76" y="200" width="36" height="1" fill="#adadad"/>
<rect x="90" y="201" width="22" height="1" fill="#adadad"/>
<rect x="90" y="202" width="22" height="1" fill="#adadad"/>
<rect x="78" y="202" width="12" height="1" fill="#cfcfcf"/>
<rect x="70" y="203" width="42" height="1" fill="#adadad"/>
<rect x="70" y="204" width="42" height="1" fill="#adadad"/>
<rect x="70" y="205" width="42" height="1" fill="#adadad"/>
<rect x="70" y="206" width="42" height="1" fill="#adadad"/>
<rect x="70" y="207" width="42" height="1" fill="#adadad"/>
<rect x="70" y="208" width="42" height="1" fill="#adadad"/>
<rect x="70" y="209" width="42" height="1" fill="#adadad"/>
<rect x="63" y="210" width="49" height="1" fill="#adadad"/>
<rect x="63" y="211" width="49" height="1" fill="#adadad"/>
<rect x="63" y="212" width="49" height="1" fill="#adadad"/>
<rect x="63" y="213" width="49" height="1" fill="#adadad"/>
<rect x="63" y="214" width="49" height="1" fill="#adadad"/>
<rect x="90" y="215" width="22" height="1" fill="#adadad"/>
<rect x="90" y="216" width="22" height="1" fill="#adadad"/>
<rect x="90" y="217" width="22" height="1" fill="#adadad"/>
<rect x="90" y="218" width="22" height="1" fill="#adadad"/>
<rect x="92" y="219" width="20" height="1" fill="#adadad"/>
<rect x="92" y="220" width="20" height="1" fill="#adadad"/>
<rect x="92" y="221" width="20" height="1" fill="#adadad"/>
<rect x="92" y="222" width="20" height="1" fill="#adadad"/>
<rect x="98" y="223" width="14" height="1" fill="#adadad"/>
<rect x="98" y="224" width="14" height="1" fill="#adadad"/>
<rect x="84" y="225" width="28" height="1" fill="#adadad"/>
<rect x="84" y="226" width="28" height="1" fill="#adadad"/>
<rect x="84" y="227" width="28" height="1" fill="#adadad"/>
<rect x="93" y="228" width="19" height="1" fill="#adadad"/>
<rect x="93" y="229" width="19" height="1" fill="#adadad"/>
<rect x="93" y="230" width="19" height="1" fill="#adadad"/>
<rect x="96" y="231" width="16" height="1" fill="#adadad"/>
<rect x="96" y="232" width="16" height="1" fill="#adadad"/>
<rect x="92" y="233" width="20" height="1" fill="#adadad"/>
<rect x="92" y="234" width="20" height="1" fill="#adadad"/>
<rect x="92" y="235" width="20" height="1" fill="#adadad"/>
<rect x="92" y="236" width="20" height="1" fill="#adadad"/>
<rect x="93" y="237" width="19" height="1" fill="#adadad"/>
<rect x="93" y="238" width="19" height="1" fill="#adadad"/>
<rect x="93" y="239" width="19" height="1" fill="#adadad"/>
<rect x="93" y="240" width="19" height="1" fill="#adadad"/>
<rect x="96" y="241" width="16" height="1" fill="#adadad"/>
<rect x="96" y="242" width="16" height="1" fill="#adadad"/>
<rect x="96" y="243" width="16" height="1" fill="#adadad"/>
<rect x="96" y="244" width="16" height="1" fill="#adadad"/>
<rect x="102" y="245" width="10" height="1" fill="#adadad"/>
<rect x="102" y="246" width="10" height="1" fill="#adadad"/>
<rect x="102" y="247" width="10" height="1" fill="#adadad"/>
<rect x="102" y="248" width="10" height="1" fill="#adadad"/>
<rect x="102" y="249" width="10" height="1" fill="#adadad"/>
<rect x="98" y="250" width="14" height="1" fill="#adadad"/>
<rect x="98" y="251" width="14" height="1" fill="#adadad"/>
<rect x="98" y="252" width="14" height="1" fill="#adadad"/>
<rect x="98" y="253" width="14" height="1" fill="#adadad"/>
<rect x="98" y="254" width="14" height="1" fill="#adadad"/>
<rect x="98" y="255" width="14" height="1" fill="#adadad"/>
<rect x="91" y="256" width="21" height="1" fill="#adadad"/>
<rect x="91" y="257" width="21" height="1" fill="#adadad"/>
<rect x="91" y="258" width="21" height="1" fill="#adadad"/>
<rect x="91" y="259" width="21" height="1" fill="#adadad"/>
<rect x="97" y="260" width="15" height="1" fill="#adadad"/>
<rect x="97" y="261" width="15" height="1" fill="#adadad"/>
<rect x="97" y="262" width="15" height="1" fill="#adadad"/>
<rect x="91" y="263" width="21" height="1" fill="#adadad"/>
<rect x="91" y="264" width="21" height="1" fill="#adadad"/>
<rect x="91" y="265" width="21" height="1" fill="#adadad"/>
<rect x="83" y="266" width="29" height="1" fill="#adadad"/>
<rect x="83" y="267" width="29" height="1" fill="#adadad"/>
<rect x="76" y="268" width="36" height="1" fill="#adadad"/>
<rect x="76" y="269" width="36" height="1" fill="#adadad"/>
<rect x="76" y="270" width="36" height="1" fill="#adadad"/>
<rect x="76" y="271" width="36" height="1" fill="#adadad"/>
<rect x="72" y="272" width="40" height="1" fill="#adadad"/>
<rect x="72" y="273" width="40" height="1" fill="#adadad"/>
<rect x="72" y="274" width="40" height="1" fill="#adadad"/>
<rect x="72" y="275" width="40" height="1" fill="#adadad"/>
<rect x="72" y="276" width="40" height="1" fill="#adadad"/>
<rect x="72" y="277" width="40" height="1" fill="#adadad"/>
<rect x="103" y="278" width="9" height="1" fill="#adadad"/>
<rect x="103" y="279" width="9" height="1" fill="#adadad"/>
<rect x="103" y="280" width="9" height="1" fill="#adadad"/>
<rect x="103" y="281" width="9" height="1" fill="#adadad"/>
<rect x="89" y="282" width="23" height="1" fill="#adadad"/>
<rect x="89" y="283" width="23" height="1" fill="#adadad"/>
<rect x="89" y="284" width="23" height="1" fill="#adadad"/>
<rect x="89" y="285" width="23" height="1" fill="#adadad"/>
<rect x="89" y="286" width="23" height="1" fill="#adadad"/>
<rect x="1" y="125" width="32" height="1" fill="#858585"/>
<rect x="1" y="261" width="31" height="1" fill="#858585"/>
<rect x="32" y="63" width="13" height="1" fill="#858585"/>
<rect x="44" y="55" width="9" height="1" fill="#858585"/>
<rect x="52" y="53" width="28" height="1" fill="#858585"/>
<rect x="52" y="57" width="10" height="1" fill="#858585"/>
<rect x="61" y="56" width="19" height="1" fill="#858585"/>
<rect x="61" y="59" width="10" height="1" fill="#858585"/>
<rect x="70" y="58" width="16" height="1" fill="#858585"/>
<rect x="70" y="61" width="4" height="1" fill="#858585"/>
<rect x="73" y="60" width="13" height="1" fill="#858585"/>
<rect x="73" y="63" width="17" height="1" fill="#858585"/>
<rect x="44" y="71" width="11" height="1" fill="#858585"/>
<rect x="54" y="70" width="6" height="1" fill="#858585"/>
<rect x="54" y="72" width="6" height="1" fill="#858585"/>
<rect x="59" y="67" width="10" height="1" fill="#858585"/>
<rect x="68" y="66" width="11" height="1" fill="#858585"/>
<rect x="68" y="68" width="29" height="1" fill="#858585"/>
<rect x="32" y="188" width="3" height="1" fill="#858585"/>
<rect x="34" y="163" width="7" height="1" fill="#858585"/>
<rect x="40" y="122" width="11" height="1" fill="#858585"/>
<rect x="50" y="78" width="11" height="1" fill="#858585"/>
<rect x="60" y="75" width="16" height="1" fill="#858585"/>
<rect x="75" y="74" width="10" height="1" fill="#858585"/>
<rect x="75" y="76" width="15" height="1" fill="#858585"/>
<rect x="89" y="78" width="12" height="1" fill="#858585"/>
<rect x="60" y="81" width="9" height="1" fill="#858585"/>
<rect x="68" y="80" width="28" height="1" fill="#858585"/>
<rect x="68" y="83" width="13" height="1" fill="#858585"/>
<rect x="80" y="85" width="11" height="1" fill="#858585"/>
<rect x="76" y="87" width="15" height="1" fill="#858585"/>
<rect x="90" y="85" width="6" height="1" fill="#858585"/>
<rect x="90" y="88" width="9" height="1" fill="#858585"/>
<rect x="76" y="106" width="10" height="1" fill="#858585"/>
<rect x="85" y="94" width="4" height="1" fill="#858585"/>
<rect x="88" y="91" width="10" height="1" fill="#858585"/>
<rect x="88" y="97" width="9" height="1" fill="#858585"/>
<rect x="85" y="101" width="4" height="1" fill="#858585"/>
<rect x="88" y="99" width="13" height="1" fill="#858585"/>
<rect x="88" y="103" width="14" height="1" fill="#858585"/>
<rect x="85" y="115" width="4" height="1" fill="#858585"/>
<rect x="88" y="113" width="3" height="1" fill="#858585"/>
<rect x="90" y="111" width="4" height="1" fill="#858585"/>
<rect x="93" y="109" width="4" height="1" fill="#858585"/>
<rect x="96" y="107" width="4" height="1" fill="#858585"/>
<rect x="99" y="105" width="6" height="1" fill="#858585"/>
<rect x="50" y="165" width="4" height="1" fill="#858585"/>
<rect x="53" y="137" width="13" height="1" fill="#858585"/>
<rect x="65" y="113" width="10" height="1" fill="#858585"/>
<rect x="74" y="128" width="5" height="1" fill="#858585"/>
<rect x="78" y="122" width="11" height="1" fill="#858585"/>
<rect x="78" y="133" width="14" height="1" fill="#858585"/>
<rect x="65" y="161" width="8" height="1" fill="#858585"/>
<rect x="72" y="147" width="3" height="1" fill="#858585"/>
<rect x="74" y="138" width="15" height="1" fill="#858585"/>
<rect x="74" y="156" width="15" height="1" fill="#858585"/>
<rect x="72" y="175" width="4" height="1" fill="#858585"/>
<rect x="75" y="172" width="11" height="1" fill="#858585"/>
<rect x="75" y="179" width="9" height="1" fill="#858585"/>
<rect x="53" y="193" width="9" height="1" fill="#858585"/>
<rect x="61" y="190" width="6" height="1" fill="#858585"/>
<rect x="66" y="188" width="10" height="1" fill="#858585"/>
<rect x="75" y="187" width="15" height="1" fill="#858585"/>
<rect x="75" y="189" width="15" height="1" fill="#858585"/>
<rect x="66" y="192" width="15" height="1" fill="#858585"/>
<rect x="61" y="196" width="10" height="1" fill="#858585"/>
<rect x="40" y="204" width="5" height="1" fill="#858585"/>
<rect x="44" y="201" width="18" height="1" fill="#858585"/>
<rect x="61" y="199" width="16" height="1" fill="#858585"/>
<rect x="61" y="203" width="4" height="1" fill="#858585"/>
<rect x="64" y="201" width="15" height="1" fill="#858585"/>
<rect x="64" y="205" width="7" height="1" fill="#858585"/>
<rect x="44" y="208" width="9" height="1" fill="#858585"/>
<rect x="52" y="207" width="19" height="1" fill="#858585"/>
<rect x="52" y="209" width="19" height="1" fill="#858585"/>
<rect x="34" y="213" width="15" height="1" fill="#858585"/>
<rect x="48" y="211" width="16" height="1" fill="#858585"/>
<rect x="48" y="214" width="16" height="1" fill="#858585"/>
<rect x="31" y="244" width="18" height="1" fill="#858585"/>
<rect x="48" y="222" width="14" height="1" fill="#858585"/>
<rect x="61" y="215" width="30" height="1" fill="#858585"/>
<rect x="61" y="229" width="5" height="1" fill="#858585"/>
<rect x="65" y="223" width="5" height="1" fill="#858585"/>
<rect x="69" y="220" width="5" height="1" fill="#858585"/>
<rect x="73" y="217" width="18" height="1" fill="#858585"/>
<rect x="73" y="221" width="15" height="1" fill="#858585"/>
<rect x="69" y="226" width="12" height="1" fill="#858585"/>
<rect x="65" y="236" width="8" height="1" fill="#858585"/>
<rect x="72" y="231" width="16" height="1" fill="#858585"/>
<rect x="87" y="230" width="12" height="1" fill="#858585"/>
<rect x="87" y="233" width="7" height="1" fill="#858585"/>
<rect x="72" y="241" width="8" height="1" fill="#858585"/>
<rect x="79" y="235" width="5" height="1" fill="#858585"/>
<rect x="83" y="234" width="10" height="1" fill="#858585"/>
<rect x="83" y="236" width="11" height="1" fill="#858585"/>
<rect x="79" y="248" width="7" height="1" fill="#858585"/>
<rect x="85" y="240" width="6" height="1" fill="#858585"/>
<rect x="90" y="239" width="6" height="1" fill="#858585"/>
<rect x="90" y="245" width="5" height="1" fill="#858585"/>
<rect x="48" y="266" width="4" height="1" fill="#858585"/>
<rect x="51" y="261" width="23" height="1" fill="#858585"/>
<rect x="73" y="256" width="13" height="1" fill="#858585"/>
<rect x="85" y="259" width="7" height="1" fill="#858585"/>
<rect x="73" y="265" width="6" height="1" fill="#858585"/>
<rect x="78" y="263" width="8" height="1" fill="#858585"/>
<rect x="78" y="266" width="6" height="1" fill="#858585"/>
<rect x="51" y="271" width="8" height="1" fill="#858585"/>
<rect x="58" y="269" width="19" height="1" fill="#858585"/>
<rect x="58" y="273" width="15" height="1" fill="#858585"/>
<rect x="31" y="279" width="14" height="1" fill="#858585"/>
<rect x="44" y="275" width="29" height="1" fill="#858585"/>
<rect x="44" y="281" width="6" height="1" fill="#858585"/>
<rect x="49" y="280" width="5" height="1" fill="#858585"/>
<rect x="53" y="278" width="51" height="1" fill="#858585"/>
<rect x="53" y="282" width="28" height="1" fill="#858585"/>
<rect x="80" y="281" width="7" height="1" fill="#858585"/>
<rect x="80" y="284" width="10" height="1" fill="#858585"/>
<rect x="49" y="286" width="41" height="1" fill="#858585"/>
<rect x="1" y="125" width="1" height="137" fill="#858585"/>
<rect x="32" y="63" width="1" height="126" fill="#858585"/>
<rect x="44" y="55" width="1" height="17" fill="#858585"/>
<rect x="52" y="53" width="1" height="5" fill="#858585"/>
<rect x="61" y="56" width="1" height="4" fill="#858585"/>
<rect x="70" y="58" width="1" height="4" fill="#858585"/>
<rect x="73" y="60" width="1" height="4" fill="#858585"/>
<rect x="54" y="70" width="1" height="3" fill="#858585"/>
<rect x="59" y="67" width="1" height="4" fill="#858585"/>
<rect x="68" y="66" width="1" height="3" fill="#858585"/>
<rect x="34" y="163" width="1" height="51" fill="#858585"/>
<rect x="40" y="122" width="1" height="83" fill="#858585"/>
<rect x="50" y="78" width="1" height="88" fill="#858585"/>
<rect x="60" y="75" width="1" height="7" fill="#858585"/>
<rect x="75" y="74" width="1" height="3" fill="#858585"/>
<rect x="89" y="76" width="1" height="3" fill="#858585"/>
<rect x="68" y="80" width="1" height="4" fill="#858585"/>
<rect x="80" y="83" width="1" height="3" fill="#858585"/>
<rect x="76" y="87" width="1" height="20" fill="#858585"/>
<rect x="90" y="85" width="1" height="4" fill="#858585"/>
<rect x="85" y="94" width="1" height="22" fill="#858585"/>
<rect x="88" y="91" width="1" height="7" fill="#858585"/>
<rect x="88" y="99" width="1" height="5" fill="#858585"/>
<rect x="88" y="113" width="1" height="3" fill="#858585"/>
<rect x="90" y="111" width="1" height="3" fill="#858585"/>
<rect x="93" y="109" width="1" height="3" fill="#858585"/>
<rect x="96" y="107" width="1" height="3" fill="#858585"/>
<rect x="99" y="105" width="1" height="3" fill="#858585"/>
<rect x="53" y="137" width="1" height="57" fill="#858585"/>
<rect x="65" y="113" width="1" height="49" fill="#858585"/>
<rect x="74" y="98" width="1" height="31" fill="#858585"/>
<rect x="78" y="122" width="1" height="12" fill="#858585"/>
<rect x="72" y="147" width="1" height="29" fill="#858585"/>
<rect x="74" y="138" width="1" height="19" fill="#858585"/>
<rect x="75" y="172" width="1" height="8" fill="#858585"/>
<rect x="61" y="190" width="1" height="7" fill="#858585"/>
<rect x="66" y="188" width="1" height="5" fill="#858585"/>
<rect x="75" y="187" width="1" height="3" fill="#858585"/>
<rect x="44" y="201" width="1" height="8" fill="#858585"/>
<rect x="61" y="199" width="1" height="5" fill="#858585"/>
<rect x="64" y="201" width="1" height="5" fill="#858585"/>
<rect x="52" y="207" width="1" height="3" fill="#858585"/>
<rect x="48" y="211" width="1" height="4" fill="#858585"/>
<rect x="31" y="244" width="1" height="36" fill="#858585"/>
<rect x="48" y="222" width="1" height="45" fill="#858585"/>
<rect x="61" y="215" width="1" height="15" fill="#858585"/>
<rect x="65" y="223" width="1" height="14" fill="#858585"/>
<rect x="69" y="220" width="1" height="7" fill="#858585"/>
<rect x="73" y="217" width="1" height="5" fill="#858585"/>
<rect x="80" y="225" width="1" height="3" fill="#858585"/>
<rect x="72" y="231" width="1" height="11" fill="#858585"/>
<rect x="87" y="230" width="1" height="4" fill="#858585"/>
<rect x="79" y="235" width="1" height="14" fill="#858585"/>
<rect x="83" y="234" width="1" height="3" fill="#858585"/>
<rect x="85" y="240" width="1" height="13" fill="#858585"/>
<rect x="90" y="239" width="1" height="7" fill="#858585"/>
<rect x="51" y="261" width="1" height="11" fill="#858585"/>
<rect x="73" y="256" width="1" height="10" fill="#858585"/>
<rect x="85" y="256" width="1" height="4" fill="#858585"/>
<rect x="78" y="263" width="1" height="4" fill="#858585"/>
<rect x="85" y="261" width="1" height="4" fill="#858585"/>
<rect x="58" y="269" width="1" height="5" fill="#858585"/>
<rect x="44" y="275" width="1" height="7" fill="#858585"/>
<rect x="49" y="280" width="1" height="7" fill="#858585"/>
<rect x="53" y="278" width="1" height="5" fill="#858585"/>
<rect x="80" y="281" width="1" height="4" fill="#858585"/>
</g><g shape-rendering="crispEdges">
<rect x="77" y="56" width="2" height="1" fill="#9a9a9a"/>
<rect x="77" y="57" width="17" height="1" fill="#9a9a9a"/>
<rect x="77" y="56" width="1" height="2" fill="#9a9a9a"/>
<rect x="73" y="56" width="4" height="1" fill="#9a9a9a"/>
<rect x="86" y="58" width="8" height="1" fill="#9a9a9a"/>
<rect x="89" y="59" width="5" height="1" fill="#9a9a9a"/>
<rect x="89" y="60" width="5" height="1" fill="#9a9a9a"/>
<rect x="89" y="59" width="1" height="2" fill="#9a9a9a"/>
<rect x="86" y="59" width="3" height="1" fill="#9a9a9a"/>
<rect x="86" y="58" width="1" height="2" fill="#9a9a9a"/>
<rect x="73" y="58" width="13" height="1" fill="#9a9a9a"/>
<rect x="73" y="56" width="1" height="3" fill="#9a9a9a"/>
<rect x="70" y="57" width="3" height="1" fill="#9a9a9a"/>
<rect x="76" y="62" width="13" height="1" fill="#9a9a9a"/>
<rect x="76" y="63" width="13" height="1" fill="#9a9a9a"/>
<rect x="76" y="64" width="2" height="1" fill="#9a9a9a"/>
<rect x="76" y="62" width="1" height="2" fill="#9a9a9a"/>
<rect x="74" y="62" width="2" height="1" fill="#9a9a9a"/>
<rect x="76" y="65" width="2" height="1" fill="#9a9a9a"/>
<rect x="76" y="66" width="20" height="1" fill="#9a9a9a"/>
<rect x="76" y="67" width="20" height="1" fill="#9a9a9a"/>
<rect x="76" y="65" width="1" height="3" fill="#9a9a9a"/>
<rect x="74" y="66" width="2" height="1" fill="#9a9a9a"/>
<rect x="74" y="62" width="1" height="5" fill="#9a9a9a"/>
<rect x="73" y="64" width="1" height="1" fill="#9a9a9a"/>
<rect x="82" y="72" width="1" height="1" fill="#9a9a9a"/>
<rect x="82" y="73" width="1" height="1" fill="#9a9a9a"/>
<rect x="82" y="74" width="18" height="1" fill="#9a9a9a"/>
<rect x="82" y="72" width="1" height="2" fill="#9a9a9a"/>
<rect x="79" y="72" width="3" height="1" fill="#9a9a9a"/>
<rect x="96" y="75" width="4" height="1" fill="#9a9a9a"/>
<rect x="96" y="76" width="4" height="1" fill="#9a9a9a"/>
<rect x="96" y="75" width="1" height="2" fill="#9a9a9a"/>
<rect x="79" y="75" width="17" height="1" fill="#9a9a9a"/>
<rect x="79" y="72" width="1" height="4" fill="#9a9a9a"/>
<rect x="77" y="73" width="2" height="1" fill="#9a9a9a"/>
<rect x="88" y="77" width="6" height="1" fill="#9a9a9a"/>
<rect x="91" y="78" width="3" height="1" fill="#9a9a9a"/>
<rect x="91" y="79" width="4" height="1" fill="#9a9a9a"/>
<rect x="91" y="78" width="1" height="2" fill="#9a9a9a"/>
<rect x="88" y="78" width="3" height="1" fill="#9a9a9a"/>
<rect x="88" y="77" width="1" height="2" fill="#9a9a9a"/>
<rect x="83" y="77" width="5" height="1" fill="#9a9a9a"/>
<rect x="92" y="80" width="3" height="1" fill="#9a9a9a"/>
<rect x="92" y="81" width="3" height="1" fill="#9a9a9a"/>
<rect x="92" y="80" width="1" height="2" fill="#9a9a9a"/>
<rect x="86" y="80" width="6" height="1" fill="#9a9a9a"/>
<rect x="88" y="82" width="7" height="1" fill="#9a9a9a"/>
<rect x="88" y="83" width="2" height="1" fill="#9a9a9a"/>
<rect x="88" y="82" width="1" height="2" fill="#9a9a9a"/>
<rect x="86" y="82" width="2" height="1" fill="#9a9a9a"/>
<rect x="86" y="80" width="1" height="3" fill="#9a9a9a"/>
<rect x="83" y="81" width="3" height="1" fill="#9a9a9a"/>
<rect x="83" y="77" width="1" height="5" fill="#9a9a9a"/>
<rect x="77" y="79" width="6" height="1" fill="#9a9a9a"/>
<rect x="77" y="73" width="1" height="7" fill="#9a9a9a"/>
<rect x="75" y="76" width="2" height="1" fill="#9a9a9a"/>
<rect x="80" y="84" width="10" height="1" fill="#9a9a9a"/>
<rect x="93" y="93" width="7" height="1" fill="#9a9a9a"/>
<rect x="98" y="94" width="2" height="1" fill="#9a9a9a"/>
<rect x="98" y="95" width="2" height="1" fill="#9a9a9a"/>
<rect x="98" y="94" width="1" height="2" fill="#9a9a9a"/>
<rect x="93" y="94" width="5" height="1" fill="#9a9a9a"/>
<rect x="93" y="93" width="1" height="2" fill="#9a9a9a"/>
<rect x="88" y="93" width="5" height="1" fill="#9a9a9a"/>
<rect x="96" y="97" width="7" height="1" fill="#9a9a9a"/>
<rect x="88" y="101" width="15" height="1" fill="#9a9a9a"/>
<rect x="90" y="114" width="6" height="1" fill="#9a9a9a"/>
<rect x="88" y="118" width="4" height="1" fill="#9a9a9a"/>
<rect x="88" y="119" width="3" height="1" fill="#9a9a9a"/>
<rect x="88" y="118" width="1" height="2" fill="#9a9a9a"/>
<rect x="83" y="118" width="5" height="1" fill="#9a9a9a"/>
<rect x="83" y="120" width="8" height="1" fill="#9a9a9a"/>
<rect x="83" y="118" width="1" height="3" fill="#9a9a9a"/>
<rect x="74" y="119" width="9" height="1" fill="#9a9a9a"/>
<rect x="89" y="124" width="2" height="1" fill="#9a9a9a"/>
<rect x="89" y="125" width="11" height="1" fill="#9a9a9a"/>
<rect x="89" y="124" width="1" height="2" fill="#9a9a9a"/>
<rect x="87" y="124" width="2" height="1" fill="#9a9a9a"/>
<rect x="96" y="126" width="4" height="1" fill="#9a9a9a"/>
<rect x="96" y="127" width="4" height="1" fill="#9a9a9a"/>
<rect x="96" y="126" width="1" height="2" fill="#9a9a9a"/>
<rect x="87" y="126" width="9" height="1" fill="#9a9a9a"/>
<rect x="87" y="124" width="1" height="3" fill="#9a9a9a"/>
<rect x="84" y="125" width="3" height="1" fill="#9a9a9a"/>
<rect x="91" y="128" width="2" height="1" fill="#9a9a9a"/>
<rect x="91" y="129" width="2" height="1" fill="#9a9a9a"/>
<rect x="91" y="130" width="2" height="1" fill="#9a9a9a"/>
<rect x="91" y="131" width="2" height="1" fill="#9a9a9a"/>
<rect x="91" y="128" width="1" height="3" fill="#9a9a9a"/>
<rect x="84" y="129" width="7" height="1" fill="#9a9a9a"/>
<rect x="84" y="125" width="1" height="5" fill="#9a9a9a"/>
<rect x="78" y="127" width="6" height="1" fill="#9a9a9a"/>
<rect x="91" y="135" width="2" height="1" fill="#9a9a9a"/>
<rect x="91" y="136" width="2" height="1" fill="#9a9a9a"/>
<rect x="91" y="135" width="1" height="2" fill="#9a9a9a"/>
<rect x="87" y="135" width="4" height="1" fill="#9a9a9a"/>
<rect x="87" y="137" width="10" height="1" fill="#9a9a9a"/>
<rect x="87" y="135" width="1" height="3" fill="#9a9a9a"/>
<rect x="83" y="136" width="4" height="1" fill="#9a9a9a"/>
<rect x="94" y="138" width="3" height="1" fill="#9a9a9a"/>
<rect x="94" y="139" width="3" height="1" fill="#9a9a9a"/>
<rect x="94" y="140" width="3" height="1" fill="#9a9a9a"/>
<rect x="94" y="141" width="8" height="1" fill="#9a9a9a"/>
<rect x="94" y="138" width="1" height="3" fill="#9a9a9a"/>
<rect x="83" y="139" width="11" height="1" fill="#9a9a9a"/>
<rect x="83" y="136" width="1" height="4" fill="#9a9a9a"/>
<rect x="80" y="137" width="3" height="1" fill="#9a9a9a"/>
<rect x="97" y="142" width="5" height="1" fill="#9a9a9a"/>
<rect x="101" y="143" width="1" height="1" fill="#9a9a9a"/>
<rect x="101" y="144" width="1" height="1" fill="#9a9a9a"/>
<rect x="101" y="143" width="1" height="2" fill="#9a9a9a"/>
<rect x="97" y="143" width="4" height="1" fill="#9a9a9a"/>
<rect x="97" y="142" width="1" height="2" fill="#9a9a9a"/>
<rect x="89" y="142" width="8" height="1" fill="#9a9a9a"/>
<rect x="97" y="145" width="5" height="1" fill="#9a9a9a"/>
<rect x="97" y="146" width="5" height="1" fill="#9a9a9a"/>
<rect x="97" y="145" width="1" height="2" fill="#9a9a9a"/>
<rect x="89" y="145" width="8" height="1" fill="#9a9a9a"/>
<rect x="89" y="142" width="1" height="4" fill="#9a9a9a"/>
<rect x="80" y="143" width="9" height="1" fill="#9a9a9a"/>
<rect x="80" y="137" width="1" height="7" fill="#9a9a9a"/>
<rect x="74" y="140" width="6" height="1" fill="#9a9a9a"/>
<rect x="98" y="147" width="4" height="1" fill="#9a9a9a"/>
<rect x="98" y="148" width="4" height="1" fill="#9a9a9a"/>
<rect x="98" y="147" width="1" height="2" fill="#9a9a9a"/>
<rect x="94" y="147" width="4" height="1" fill="#9a9a9a"/>
<rect x="97" y="149" width="5" height="1" fill="#9a9a9a"/>
<rect x="99" y="150" width="3" height="1" fill="#9a9a9a"/>
<rect x="99" y="151" width="3" height="1" fill="#9a9a9a"/>
<rect x="99" y="150" width="1" height="2" fill="#9a9a9a"/>
<rect x="97" y="150" width="2" height="1" fill="#9a9a9a"/>
<rect x="97" y="149" width="1" height="2" fill="#9a9a9a"/>
<rect x="94" y="149" width="3" height="1" fill="#9a9a9a"/>
<rect x="94" y="147" width="1" height="3" fill="#9a9a9a"/>
<rect x="87" y="148" width="7" height="1" fill="#9a9a9a"/>
<rect x="93" y="152" width="9" height="1" fill="#9a9a9a"/>
<rect x="93" y="153" width="9" height="1" fill="#9a9a9a"/>
<rect x="93" y="152" width="1" height="2" fill="#9a9a9a"/>
<rect x="87" y="152" width="6" height="1" fill="#9a9a9a"/>
<rect x="87" y="148" width="1" height="5" fill="#9a9a9a"/>
<rect x="78" y="150" width="9" height="1" fill="#9a9a9a"/>
<rect x="93" y="154" width="9" height="1" fill="#9a9a9a"/>
<rect x="93" y="155" width="9" height="1" fill="#9a9a9a"/>
<rect x="93" y="154" width="1" height="2" fill="#9a9a9a"/>
<rect x="82" y="154" width="11" height="1" fill="#9a9a9a"/>
<rect x="87" y="156" width="15" height="1" fill="#9a9a9a"/>
<rect x="91" y="157" width="2" height="1" fill="#9a9a9a"/>
<rect x="91" y="158" width="2" height="1" fill="#9a9a9a"/>
<rect x="91" y="157" width="1" height="2" fill="#9a9a9a"/>
<rect x="87" y="157" width="4" height="1" fill="#9a9a9a"/>
<rect x="87" y="156" width="1" height="2" fill="#9a9a9a"/>
<rect x="82" y="156" width="5" height="1" fill="#9a9a9a"/>
<rect x="82" y="154" width="1" height="3" fill="#9a9a9a"/>
<rect x="78" y="155" width="4" height="1" fill="#9a9a9a"/>
<rect x="78" y="150" width="1" height="6" fill="#9a9a9a"/>
<rect x="74" y="152" width="4" height="1" fill="#9a9a9a"/>
<rect x="92" y="159" width="1" height="1" fill="#9a9a9a"/>
<rect x="92" y="160" width="1" height="1" fill="#9a9a9a"/>
<rect x="92" y="159" width="1" height="2" fill="#9a9a9a"/>
<rect x="89" y="159" width="3" height="1" fill="#9a9a9a"/>
<rect x="89" y="161" width="12" height="1" fill="#9a9a9a"/>
<rect x="89" y="159" width="1" height="3" fill="#9a9a9a"/>
<rect x="84" y="160" width="5" height="1" fill="#9a9a9a"/>
<rect x="96" y="162" width="5" height="1" fill="#9a9a9a"/>
<rect x="96" y="163" width="5" height="1" fill="#9a9a9a"/>
<rect x="96" y="162" width="1" height="2" fill="#9a9a9a"/>
<rect x="92" y="162" width="4" height="1" fill="#9a9a9a"/>
<rect x="98" y="164" width="3" height="1" fill="#9a9a9a"/>
<rect x="98" y="165" width="3" height="1" fill="#9a9a9a"/>
<rect x="98" y="164" width="1" height="2" fill="#9a9a9a"/>
<rect x="92" y="164" width="6" height="1" fill="#9a9a9a"/>
<rect x="92" y="162" width="1" height="3" fill="#9a9a9a"/>
<rect x="84" y="163" width="8" height="1" fill="#9a9a9a"/>
<rect x="84" y="160" width="1" height="4" fill="#9a9a9a"/>
<rect x="81" y="161" width="3" height="1" fill="#9a9a9a"/>
<rect x="88" y="166" width="13" height="1" fill="#9a9a9a"/>
<rect x="88" y="167" width="5" height="1" fill="#9a9a9a"/>
<rect x="88" y="166" width="1" height="2" fill="#9a9a9a"/>
<rect x="83" y="166" width="5" height="1" fill="#9a9a9a"/>
<rect x="91" y="168" width="2" height="1" fill="#9a9a9a"/>
<rect x="91" y="169" width="2" height="1" fill="#9a9a9a"/>
<rect x="91" y="170" width="2" height="1" fill="#9a9a9a"/>
<rect x="91" y="168" width="1" height="3" fill="#9a9a9a"/>
<rect x="83" y="169" width="8" height="1" fill="#9a9a9a"/>
<rect x="83" y="166" width="1" height="4" fill="#9a9a9a"/>
<rect x="81" y="167" width="2" height="1" fill="#9a9a9a"/>
<rect x="81" y="161" width="1" height="7" fill="#9a9a9a"/>
<rect x="72" y="164" width="9" height="1" fill="#9a9a9a"/>
<rect x="91" y="171" width="2" height="1" fill="#9a9a9a"/>
<rect x="91" y="172" width="2" height="1" fill="#9a9a9a"/>
<rect x="91" y="171" width="1" height="2" fill="#9a9a9a"/>
<rect x="86" y="171" width="5" height="1" fill="#9a9a9a"/>
<rect x="91" y="173" width="2" height="1" fill="#9a9a9a"/>
<rect x="91" y="174" width="10" height="1" fill="#9a9a9a"/>
<rect x="97" y="175" width="4" height="1" fill="#9a9a9a"/>
<rect x="97" y="176" width="4" height="1" fill="#9a9a9a"/>
<rect x="97" y="175" width="1" height="2" fill="#9a9a9a"/>
<rect x="91" y="175" width="6" height="1" fill="#9a9a9a"/>
<rect x="91" y="173" width="1" height="3" fill="#9a9a9a"/>
<rect x="86" y="174" width="5" height="1" fill="#9a9a9a"/>
<rect x="86" y="171" width="1" height="4" fill="#9a9a9a"/>
<rect x="81" y="172" width="5" height="1" fill="#9a9a9a"/>
<rect x="92" y="177" width="9" height="1" fill="#9a9a9a"/>
<rect x="96" y="178" width="5" height="1" fill="#9a9a9a"/>
<rect x="96" y="179" width="5" height="1" fill="#9a9a9a"/>
<rect x="96" y="178" width="1" height="2" fill="#9a9a9a"/>
<rect x="92" y="178" width="4" height="1" fill="#9a9a9a"/>
<rect x="92" y="177" width="1" height="2" fill="#9a9a9a"/>
<rect x="86" y="177" width="6" height="1" fill="#9a9a9a"/>
<rect x="94" y="180" width="7" height="1" fill="#9a9a9a"/>
<rect x="94" y="181" width="7" height="1" fill="#9a9a9a"/>
<rect x="94" y="180" width="1" height="2" fill="#9a9a9a"/>
<rect x="86" y="180" width="8" height="1" fill="#9a9a9a"/>
<rect x="86" y="177" width="1" height="4" fill="#9a9a9a"/>
<rect x="81" y="178" width="5" height="1" fill="#9a9a9a"/>
<rect x="81" y="172" width="1" height="7" fill="#9a9a9a"/>
<rect x="75" y="175" width="6" height="1" fill="#9a9a9a"/>
<rect x="84" y="185" width="13" height="1" fill="#9a9a9a"/>
<rect x="89" y="186" width="6" height="1" fill="#9a9a9a"/>
<rect x="89" y="187" width="6" height="1" fill="#9a9a9a"/>
<rect x="89" y="186" width="1" height="2" fill="#9a9a9a"/>
<rect x="84" y="186" width="5" height="1" fill="#9a9a9a"/>
<rect x="84" y="185" width="1" height="2" fill="#9a9a9a"/>
<rect x="76" y="185" width="8" height="1" fill="#9a9a9a"/>
<rect x="79" y="188" width="16" height="1" fill="#9a9a9a"/>
<rect x="79" y="189" width="1" height="1" fill="#9a9a9a"/>
<rect x="79" y="190" width="1" height="1" fill="#9a9a9a"/>
<rect x="79" y="191" width="1" height="1" fill="#9a9a9a"/>
<rect x="79" y="188" width="1" height="3" fill="#9a9a9a"/>
<rect x="76" y="189" width="3" height="1" fill="#9a9a9a"/>
<rect x="76" y="185" width="1" height="5" fill="#9a9a9a"/>
<rect x="75" y="187" width="1" height="1" fill="#9a9a9a"/>
<rect x="84" y="195" width="14" height="1" fill="#9a9a9a"/>
<rect x="91" y="196" width="7" height="1" fill="#9a9a9a"/>
<rect x="91" y="197" width="7" height="1" fill="#9a9a9a"/>
<rect x="91" y="196" width="1" height="2" fill="#9a9a9a"/>
<rect x="84" y="196" width="7" height="1" fill="#9a9a9a"/>
<rect x="84" y="195" width="1" height="2" fill="#9a9a9a"/>
<rect x="70" y="195" width="14" height="1" fill="#9a9a9a"/>
<rect x="87" y="201" width="3" height="1" fill="#9a9a9a"/>
<rect x="87" y="202" width="3" height="1" fill="#9a9a9a"/>
<rect x="87" y="201" width="1" height="2" fill="#9a9a9a"/>
<rect x="78" y="201" width="9" height="1" fill="#9a9a9a"/>
<rect x="84" y="219" width="8" height="1" fill="#9a9a9a"/>
<rect x="88" y="220" width="4" height="1" fill="#9a9a9a"/>
<rect x="88" y="221" width="4" height="1" fill="#9a9a9a"/>
<rect x="88" y="220" width="1" height="2" fill="#9a9a9a"/>
<rect x="84" y="220" width="4" height="1" fill="#9a9a9a"/>
<rect x="84" y="219" width="1" height="2" fill="#9a9a9a"/>
<rect x="79" y="219" width="5" height="1" fill="#9a9a9a"/>
<rect x="88" y="222" width="4" height="1" fill="#9a9a9a"/>
<rect x="92" y="223" width="6" height="1" fill="#9a9a9a"/>
<rect x="92" y="224" width="6" height="1" fill="#9a9a9a"/>
<rect x="92" y="223" width="1" height="2" fill="#9a9a9a"/>
<rect x="88" y="223" width="4" height="1" fill="#9a9a9a"/>
<rect x="88" y="222" width="1" height="2" fill="#9a9a9a"/>
<rect x="79" y="222" width="9" height="1" fill="#9a9a9a"/>
<rect x="79" y="219" width="1" height="4" fill="#9a9a9a"/>
<rect x="73" y="220" width="6" height="1" fill="#9a9a9a"/>
<rect x="91" y="228" width="2" height="1" fill="#9a9a9a"/>
<rect x="91" y="229" width="2" height="1" fill="#9a9a9a"/>
<rect x="91" y="230" width="2" height="1" fill="#9a9a9a"/>
<rect x="91" y="231" width="5" height="1" fill="#9a9a9a"/>
<rect x="91" y="228" width="1" height="3" fill="#9a9a9a"/>
<rect x="87" y="229" width="4" height="1" fill="#9a9a9a"/>
<rect x="89" y="233" width="3" height="1" fill="#9a9a9a"/>
<rect x="89" y="234" width="3" height="1" fill="#9a9a9a"/>
<rect x="89" y="235" width="3" height="1" fill="#9a9a9a"/>
<rect x="89" y="236" width="3" height="1" fill="#9a9a9a"/>
<rect x="89" y="233" width="1" height="3" fill="#9a9a9a"/>
<rect x="83" y="234" width="6" height="1" fill="#9a9a9a"/>
<rect x="94" y="241" width="2" height="1" fill="#9a9a9a"/>
<rect x="94" y="242" width="2" height="1" fill="#9a9a9a"/>
<rect x="94" y="243" width="2" height="1" fill="#9a9a9a"/>
<rect x="94" y="241" width="1" height="3" fill="#9a9a9a"/>
<rect x="90" y="242" width="4" height="1" fill="#9a9a9a"/>
<rect x="100" y="245" width="2" height="1" fill="#9a9a9a"/>
<rect x="100" y="246" width="2" height="1" fill="#9a9a9a"/>
<rect x="100" y="245" width="1" height="2" fill="#9a9a9a"/>
<rect x="96" y="245" width="4" height="1" fill="#9a9a9a"/>
<rect x="96" y="247" width="6" height="1" fill="#9a9a9a"/>
<rect x="96" y="245" width="1" height="3" fill="#9a9a9a"/>
<rect x="91" y="246" width="5" height="1" fill="#9a9a9a"/>
<rect x="100" y="248" width="2" height="1" fill="#9a9a9a"/>
<rect x="100" y="249" width="2" height="1" fill="#9a9a9a"/>
<rect x="100" y="248" width="1" height="2" fill="#9a9a9a"/>
<rect x="95" y="248" width="5" height="1" fill="#9a9a9a"/>
<rect x="95" y="250" width="3" height="1" fill="#9a9a9a"/>
<rect x="95" y="251" width="3" height="1" fill="#9a9a9a"/>
<rect x="95" y="248" width="1" height="3" fill="#9a9a9a"/>
<rect x="91" y="249" width="4" height="1" fill="#9a9a9a"/>
<rect x="91" y="246" width="1" height="4" fill="#9a9a9a"/>
<rect x="88" y="247" width="3" height="1" fill="#9a9a9a"/>
<rect x="88" y="252" width="10" height="1" fill="#9a9a9a"/>
<rect x="88" y="253" width="10" height="1" fill="#9a9a9a"/>
<rect x="88" y="254" width="10" height="1" fill="#9a9a9a"/>
<rect x="88" y="255" width="10" height="1" fill="#9a9a9a"/>
<rect x="88" y="256" width="3" height="1" fill="#9a9a9a"/>
<rect x="88" y="247" width="1" height="8" fill="#9a9a9a"/>
<rect x="85" y="250" width="3" height="1" fill="#9a9a9a"/>
<rect x="88" y="257" width="3" height="1" fill="#9a9a9a"/>
<rect x="88" y="258" width="3" height="1" fill="#9a9a9a"/>
<rect x="88" y="259" width="3" height="1" fill="#9a9a9a"/>
<rect x="88" y="260" width="9" height="1" fill="#9a9a9a"/>
<rect x="88" y="257" width="1" height="3" fill="#9a9a9a"/>
<rect x="85" y="258" width="3" height="1" fill="#9a9a9a"/>
<rect x="88" y="261" width="9" height="1" fill="#9a9a9a"/>
<rect x="88" y="262" width="9" height="1" fill="#9a9a9a"/>
<rect x="88" y="263" width="3" height="1" fill="#9a9a9a"/>
<rect x="88" y="261" width="1" height="2" fill="#9a9a9a"/>
<rect x="85" y="261" width="3" height="1" fill="#9a9a9a"/>
<rect x="85" y="258" width="1" height="4" fill="#9a9a9a"/>
<rect x="80" y="259" width="5" height="1" fill="#9a9a9a"/>
<rect x="80" y="264" width="11" height="1" fill="#9a9a9a"/>
<rect x="80" y="265" width="11" height="1" fill="#9a9a9a"/>
<rect x="80" y="266" width="3" height="1" fill="#9a9a9a"/>
<rect x="80" y="267" width="3" height="1" fill="#9a9a9a"/>
<rect x="80" y="259" width="1" height="7" fill="#9a9a9a"/>
<rect x="78" y="262" width="2" height="1" fill="#9a9a9a"/>
<rect x="89" y="279" width="14" height="1" fill="#9a9a9a"/>
<rect x="96" y="280" width="7" height="1" fill="#9a9a9a"/>
<rect x="96" y="281" width="7" height="1" fill="#9a9a9a"/>
<rect x="96" y="280" width="1" height="2" fill="#9a9a9a"/>
<rect x="89" y="280" width="7" height="1" fill="#9a9a9a"/>
<rect x="89" y="279" width="1" height="2" fill="#9a9a9a"/>
<rect x="80" y="279" width="9" height="1" fill="#9a9a9a"/>
<rect x="87" y="283" width="2" height="1" fill="#9a9a9a"/>
<rect x="87" y="284" width="2" height="1" fill="#9a9a9a"/>
<rect x="87" y="285" width="2" height="1" fill="#9a9a9a"/>
<rect x="87" y="286" width="2" height="1" fill="#9a9a9a"/>
<rect x="87" y="283" width="1" height="3" fill="#9a9a9a"/>
<rect x="80" y="284" width="7" height="1" fill="#9a9a9a"/>
</g>
</svg>
</body></html>
